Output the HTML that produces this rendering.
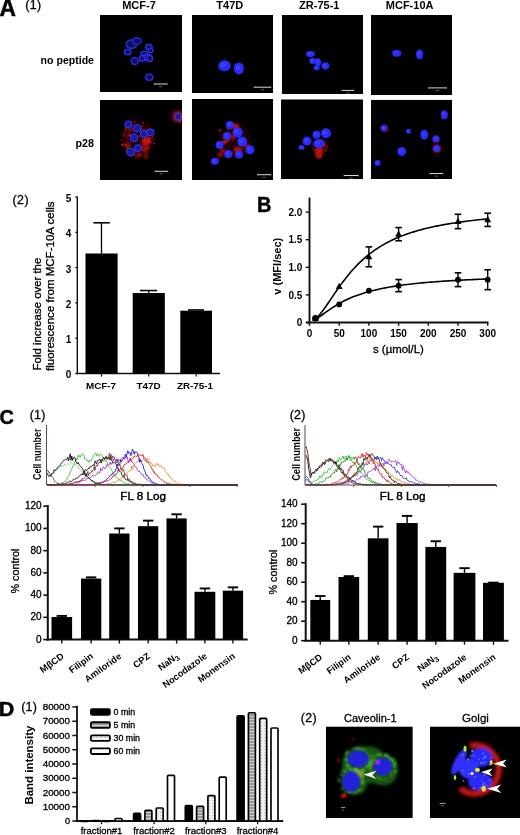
<!DOCTYPE html>
<html><head><meta charset="utf-8"><title>Figure</title>
<style>html,body{margin:0;padding:0;background:#fff;width:520px;height:835px;overflow:hidden}svg{display:block}</style>
</head><body>
<svg width="520" height="835" viewBox="0 0 520 835" font-family='"Liberation Sans", Arial, sans-serif' fill="#000"><defs><filter id="b05" x="-50%" y="-50%" width="200%" height="200%"><feGaussianBlur stdDeviation="0.5"/></filter><filter id="b1" x="-50%" y="-50%" width="200%" height="200%"><feGaussianBlur stdDeviation="0.8"/></filter><filter id="b2" x="-50%" y="-50%" width="200%" height="200%"><feGaussianBlur stdDeviation="1.6"/></filter><filter id="b3" x="-50%" y="-50%" width="200%" height="200%"><feGaussianBlur stdDeviation="3"/></filter><pattern id="pg" width="4" height="3" patternUnits="userSpaceOnUse"><rect width="4" height="3" fill="#9a9a9a"/><rect y="2" width="4" height="1" fill="#cfcfcf"/></pattern><pattern id="pl" width="4" height="3" patternUnits="userSpaceOnUse"><rect width="4" height="3" fill="#f0f0f0"/><rect y="2" width="2" height="1" fill="#c8c8c8"/></pattern></defs><text x="-0.60" y="15.50" font-size="23.2" font-weight="bold" textLength="16.40" lengthAdjust="spacingAndGlyphs" stroke="#000" stroke-width="0.5">A</text>
<text x="25.20" y="9.20" font-size="12.4" letter-spacing="0.35" stroke="#000" stroke-width="0.3">(1)</text>
<text x="122.20" y="9.20" font-size="11" font-weight="bold">MCF-7</text>
<text x="216.30" y="9.20" font-size="11" font-weight="bold">T47D</text>
<text x="299.10" y="9.20" font-size="11" font-weight="bold">ZR-75-1</text>
<text x="385.80" y="9.20" font-size="11" font-weight="bold">MCF-10A</text>
<text x="94.00" y="63.70" font-size="10.7" font-weight="bold" text-anchor="end" textLength="53.40" lengthAdjust="spacingAndGlyphs">no peptide</text>
<text x="94.00" y="147.00" font-size="10.7" font-weight="bold" text-anchor="end">p28</text>
<svg x="100" y="15" width="82" height="77" overflow="hidden"><rect width="82" height="77" fill="#000"/>
<g filter="url(#b05)">
</g>
<g filter="url(#b05)">
<ellipse cx="31.5" cy="29.2" rx="5.30" ry="4.30" fill="#10106a" stroke="#2e2ee8" stroke-width="1.3"/>
<ellipse cx="37" cy="26" rx="4.30" ry="3.30" fill="#10106a" stroke="#2e2ee8" stroke-width="1.3"/>
<ellipse cx="27.6" cy="37" rx="3.30" ry="2.80" fill="#10106a" stroke="#2e2ee8" stroke-width="1.3"/>
<ellipse cx="48.9" cy="32.3" rx="3.30" ry="2.80" fill="#10106a" stroke="#2e2ee8" stroke-width="1.3"/>
<ellipse cx="50.5" cy="35.5" rx="2.30" ry="2.30" fill="#10106a" stroke="#2e2ee8" stroke-width="1.3"/>
<ellipse cx="44.2" cy="38.6" rx="3.30" ry="2.30" fill="#10106a" stroke="#2e2ee8" stroke-width="1.3"/>
<ellipse cx="42.6" cy="43.4" rx="3.30" ry="2.80" fill="#10106a" stroke="#2e2ee8" stroke-width="1.3"/>
<ellipse cx="47.3" cy="42.3" rx="3.30" ry="2.80" fill="#10106a" stroke="#2e2ee8" stroke-width="1.3"/>
<ellipse cx="49.7" cy="43.4" rx="2.80" ry="3.30" fill="#10106a" stroke="#2e2ee8" stroke-width="1.3"/>
<ellipse cx="34.7" cy="46" rx="3.50" ry="3.50" fill="#10106a" stroke="#2e2ee8" stroke-width="1.3"/>
<ellipse cx="49.2" cy="62.3" rx="3.50" ry="3.10" fill="#10106a" stroke="#2e2ee8" stroke-width="1.3"/>
</g>
<line x1="54.4" y1="69" x2="67" y2="69" stroke="#d8d8d8" stroke-width="1"/>
<line x1="54.4" y1="68" x2="54.4" y2="70" stroke="#bbb" stroke-width="0.6"/><line x1="67" y1="68" x2="67" y2="70" stroke="#bbb" stroke-width="0.6"/>
<line x1="59.2" y1="71.6" x2="62.2" y2="71.6" stroke="#777" stroke-width="0.8"/>
</svg>
<svg x="192" y="15" width="81" height="78" overflow="hidden"><rect width="81" height="78" fill="#000"/>
<g filter="url(#b05)">
</g>
<g filter="url(#b05)">
<ellipse cx="32.6" cy="50.8" rx="6.3" ry="5.5" fill="#2c2cff"/>
<ellipse cx="31.34" cy="49.97" rx="2.83" ry="2.20" fill="#4a4aff" opacity="0.6"/>
<ellipse cx="46.8" cy="53.6" rx="5" ry="6" fill="#2c2cff"/>
<ellipse cx="45.80" cy="52.70" rx="2.25" ry="2.40" fill="#4a4aff" opacity="0.6"/>
</g>
<line x1="62.3" y1="72.2" x2="78.9" y2="72.2" stroke="#d8d8d8" stroke-width="1"/>
<line x1="62.3" y1="71.2" x2="62.3" y2="73.2" stroke="#bbb" stroke-width="0.6"/><line x1="78.9" y1="71.2" x2="78.9" y2="73.2" stroke="#bbb" stroke-width="0.6"/>
<line x1="69.1" y1="74.8" x2="72.1" y2="74.8" stroke="#777" stroke-width="0.8"/>
</svg>
<svg x="282" y="15" width="81" height="79" overflow="hidden"><rect width="81" height="79" fill="#000"/>
<g filter="url(#b05)">
</g>
<g filter="url(#b05)">
<ellipse cx="28.4" cy="39.1" rx="4.5" ry="3" fill="#2c2cff"/>
<ellipse cx="27.50" cy="38.65" rx="2.02" ry="1.20" fill="#4a4aff" opacity="0.6"/>
<ellipse cx="30.8" cy="46" rx="3.5" ry="3" fill="#2c2cff"/>
<ellipse cx="30.10" cy="45.55" rx="1.57" ry="1.20" fill="#4a4aff" opacity="0.6"/>
<ellipse cx="36" cy="47.3" rx="3" ry="4" fill="#2c2cff"/>
<ellipse cx="35.40" cy="46.70" rx="1.35" ry="1.60" fill="#4a4aff" opacity="0.6"/>
<ellipse cx="34.7" cy="52.8" rx="3" ry="2.5" fill="#2c2cff"/>
<ellipse cx="34.10" cy="52.42" rx="1.35" ry="1.00" fill="#4a4aff" opacity="0.6"/>
<ellipse cx="43.4" cy="50.8" rx="4" ry="3.6" fill="#2c2cff"/>
<ellipse cx="42.60" cy="50.26" rx="1.80" ry="1.44" fill="#4a4aff" opacity="0.6"/>
</g>
<line x1="60" y1="75.4" x2="71.8" y2="75.4" stroke="#d8d8d8" stroke-width="1"/>
<line x1="60" y1="74.4" x2="60" y2="76.4" stroke="#bbb" stroke-width="0.6"/><line x1="71.8" y1="74.4" x2="71.8" y2="76.4" stroke="#bbb" stroke-width="0.6"/>
<line x1="64.4" y1="78.0" x2="67.4" y2="78.0" stroke="#777" stroke-width="0.8"/>
</svg>
<svg x="371" y="15" width="81" height="80" overflow="hidden"><rect width="81" height="80" fill="#000"/>
<g filter="url(#b05)">
</g>
<g filter="url(#b05)">
<ellipse cx="25.7" cy="38.2" rx="4.5" ry="3.5" fill="#2c2cff"/>
<ellipse cx="24.80" cy="37.68" rx="2.02" ry="1.40" fill="#4a4aff" opacity="0.6"/>
<ellipse cx="48.6" cy="39.4" rx="3.5" ry="5" fill="#2c2cff"/>
<ellipse cx="47.90" cy="38.65" rx="1.57" ry="2.00" fill="#4a4aff" opacity="0.6"/>
</g>
<line x1="57.6" y1="72.9" x2="75.4" y2="72.9" stroke="#d8d8d8" stroke-width="1"/>
<line x1="57.6" y1="71.9" x2="57.6" y2="73.9" stroke="#bbb" stroke-width="0.6"/><line x1="75.4" y1="71.9" x2="75.4" y2="73.9" stroke="#bbb" stroke-width="0.6"/>
<line x1="65.0" y1="75.5" x2="68.0" y2="75.5" stroke="#777" stroke-width="0.8"/>
</svg>
<svg x="100" y="100" width="82" height="80" overflow="hidden"><rect width="82" height="80" fill="#000"/>
<ellipse cx="38" cy="38" rx="17" ry="19" fill="#d81616" opacity="0.11" filter="url(#b2)"/>
<ellipse cx="46.5" cy="41" rx="5" ry="4" fill="#d81616" opacity="0.90" filter="url(#b1)"/>
<ellipse cx="45" cy="48" rx="4" ry="5" fill="#d81616" opacity="0.63" filter="url(#b1)"/>
<ellipse cx="30" cy="30" rx="3" ry="3" fill="#d81616" opacity="0.45" filter="url(#b1)"/>
<ellipse cx="78" cy="16.6" rx="6" ry="6" fill="#d81616" opacity="0.72" filter="url(#b2)"/>
<ellipse cx="28" cy="45" rx="3" ry="4" fill="#d81616" opacity="0.45" filter="url(#b1)"/>
<ellipse cx="38" cy="55" rx="4" ry="3" fill="#d81616" opacity="0.45" filter="url(#b1)"/>
<ellipse cx="25" cy="35" rx="3" ry="3" fill="#d81616" opacity="0.36" filter="url(#b1)"/>
<ellipse cx="46" cy="56" rx="3" ry="3" fill="#d81616" opacity="0.45" filter="url(#b1)"/>
<g filter="url(#b05)">
<circle cx="43.2" cy="22.8" r="0.96" fill="#d41818" opacity="0.64"/>
<circle cx="47.9" cy="41.7" r="0.89" fill="#d41818" opacity="0.52"/>
<circle cx="54.2" cy="43.4" r="1.06" fill="#d41818" opacity="0.62"/>
<circle cx="22.6" cy="45.1" r="1.23" fill="#d41818" opacity="0.92"/>
<circle cx="28.7" cy="45.9" r="1.07" fill="#d41818" opacity="0.53"/>
<circle cx="29.7" cy="34.8" r="1.22" fill="#d41818" opacity="0.53"/>
<circle cx="31.2" cy="22.8" r="0.76" fill="#d41818" opacity="0.95"/>
<circle cx="39.6" cy="36.2" r="1.10" fill="#d41818" opacity="0.50"/>
<circle cx="26.8" cy="37.7" r="0.74" fill="#d41818" opacity="0.66"/>
<circle cx="41.3" cy="28.5" r="0.70" fill="#d41818" opacity="0.85"/>
<circle cx="23.6" cy="43.1" r="0.76" fill="#d41818" opacity="0.66"/>
<circle cx="41.7" cy="25.8" r="0.95" fill="#d41818" opacity="0.62"/>
<circle cx="54.4" cy="39.6" r="0.66" fill="#d41818" opacity="0.92"/>
<circle cx="26.8" cy="51.0" r="0.88" fill="#d41818" opacity="0.97"/>
<circle cx="30.2" cy="35.0" r="1.12" fill="#d41818" opacity="0.84"/>
<circle cx="33.3" cy="26.8" r="0.76" fill="#d41818" opacity="0.82"/>
<circle cx="49.1" cy="47.3" r="1.04" fill="#d41818" opacity="0.69"/>
<circle cx="40.2" cy="30.4" r="0.87" fill="#d41818" opacity="0.90"/>
<circle cx="27.5" cy="48.4" r="1.03" fill="#d41818" opacity="0.97"/>
<circle cx="52.4" cy="37.2" r="1.17" fill="#d41818" opacity="0.58"/>
<circle cx="34.4" cy="21.9" r="0.88" fill="#d41818" opacity="0.78"/>
<circle cx="21.5" cy="40.3" r="0.82" fill="#d41818" opacity="0.70"/>
<circle cx="49.0" cy="38.1" r="1.04" fill="#d41818" opacity="0.97"/>
<circle cx="46.6" cy="33.2" r="1.29" fill="#d41818" opacity="0.59"/>
<circle cx="41.0" cy="31.6" r="0.88" fill="#d41818" opacity="0.54"/>
<circle cx="47.7" cy="25.2" r="0.70" fill="#d41818" opacity="0.76"/>
<circle cx="37.4" cy="50.6" r="0.99" fill="#d41818" opacity="0.55"/>
<circle cx="43.9" cy="30.8" r="0.91" fill="#d41818" opacity="0.53"/>
<circle cx="45.5" cy="38.1" r="0.84" fill="#d41818" opacity="0.96"/>
<circle cx="47.1" cy="30.0" r="0.92" fill="#d41818" opacity="0.83"/>
<circle cx="44.2" cy="29.9" r="1.16" fill="#d41818" opacity="0.70"/>
<circle cx="25.9" cy="29.4" r="0.95" fill="#d41818" opacity="0.85"/>
<circle cx="37.6" cy="36.7" r="0.63" fill="#d41818" opacity="0.57"/>
<circle cx="39.7" cy="45.9" r="0.63" fill="#d41818" opacity="0.61"/>
<circle cx="25.1" cy="28.0" r="0.84" fill="#d41818" opacity="0.68"/>
<circle cx="25.9" cy="45.4" r="1.15" fill="#d41818" opacity="0.97"/>
<circle cx="27.8" cy="48.7" r="0.84" fill="#d41818" opacity="0.91"/>
<circle cx="39.9" cy="54.7" r="0.95" fill="#d41818" opacity="0.86"/>
<circle cx="28.7" cy="35.8" r="0.95" fill="#d41818" opacity="0.53"/>
<circle cx="49.9" cy="41.5" r="0.93" fill="#d41818" opacity="0.92"/>
<circle cx="81.7" cy="17.1" r="0.94" fill="#d41818" opacity="0.80"/>
<circle cx="77.5" cy="13.0" r="0.99" fill="#d41818" opacity="0.75"/>
<circle cx="76.1" cy="15.0" r="0.99" fill="#d41818" opacity="0.84"/>
<circle cx="79.8" cy="21.2" r="1.12" fill="#d41818" opacity="0.98"/>
<circle cx="77.1" cy="19.8" r="0.78" fill="#d41818" opacity="0.52"/>
<circle cx="80.5" cy="16.9" r="1.20" fill="#d41818" opacity="0.58"/>
</g>
<g filter="url(#b05)">
<ellipse cx="28.4" cy="24.4" rx="3.30" ry="3.30" fill="#1a1a90" stroke="#2e2ee8" stroke-width="1.3"/>
<ellipse cx="37" cy="28.4" rx="3.80" ry="3.80" fill="#1a1a90" stroke="#2e2ee8" stroke-width="1.3"/>
<ellipse cx="44" cy="34" rx="3.30" ry="3.30" fill="#1a1a90" stroke="#2e2ee8" stroke-width="1.3"/>
<ellipse cx="50.5" cy="32.3" rx="3.30" ry="3.30" fill="#1a1a90" stroke="#2e2ee8" stroke-width="1.3"/>
<ellipse cx="34" cy="37.9" rx="3.80" ry="3.80" fill="#1a1a90" stroke="#2e2ee8" stroke-width="1.3"/>
<ellipse cx="30.8" cy="52" rx="3.80" ry="3.80" fill="#1a1a90" stroke="#2e2ee8" stroke-width="1.3"/>
<ellipse cx="37.9" cy="48.1" rx="3.30" ry="3.30" fill="#1a1a90" stroke="#2e2ee8" stroke-width="1.3"/>
<ellipse cx="78" cy="16.6" rx="2.80" ry="3.30" fill="#1a1a90" stroke="#2e2ee8" stroke-width="1.3"/>
</g>
<line x1="55.2" y1="71.3" x2="67.8" y2="71.3" stroke="#d8d8d8" stroke-width="1"/>
<line x1="55.2" y1="70.3" x2="55.2" y2="72.3" stroke="#bbb" stroke-width="0.6"/><line x1="67.8" y1="70.3" x2="67.8" y2="72.3" stroke="#bbb" stroke-width="0.6"/>
<line x1="60.0" y1="73.89999999999999" x2="63.0" y2="73.89999999999999" stroke="#777" stroke-width="0.8"/>
</svg>
<svg x="192" y="99" width="81" height="81" overflow="hidden"><rect width="81" height="81" fill="#000"/>
<ellipse cx="43.4" cy="27.6" rx="4" ry="3" fill="#d81616" opacity="0.81" filter="url(#b1)"/>
<ellipse cx="41" cy="38" rx="3" ry="3" fill="#d81616" opacity="0.63" filter="url(#b1)"/>
<ellipse cx="45.7" cy="50.5" rx="4" ry="3" fill="#d81616" opacity="0.81" filter="url(#b1)"/>
<ellipse cx="31" cy="52" rx="3" ry="3" fill="#d81616" opacity="0.54" filter="url(#b1)"/>
<ellipse cx="28" cy="56" rx="3" ry="3" fill="#d81616" opacity="0.54" filter="url(#b1)"/>
<ellipse cx="55" cy="47" rx="3" ry="3" fill="#d81616" opacity="0.54" filter="url(#b1)"/>
<ellipse cx="33" cy="43" rx="3" ry="3" fill="#d81616" opacity="0.54" filter="url(#b1)"/>
<ellipse cx="42" cy="42" rx="16" ry="18" fill="#d81616" opacity="0.11" filter="url(#b2)"/>
<g filter="url(#b05)">
<circle cx="38.7" cy="33.7" r="0.65" fill="#d41818" opacity="0.60"/>
<circle cx="36.4" cy="30.5" r="0.98" fill="#d41818" opacity="0.73"/>
<circle cx="40.1" cy="54.4" r="1.25" fill="#d41818" opacity="0.60"/>
<circle cx="41.0" cy="33.0" r="0.74" fill="#d41818" opacity="0.66"/>
<circle cx="56.5" cy="51.6" r="0.86" fill="#d41818" opacity="0.59"/>
<circle cx="46.4" cy="42.0" r="0.75" fill="#d41818" opacity="0.71"/>
<circle cx="27.7" cy="31.4" r="1.22" fill="#d41818" opacity="0.62"/>
<circle cx="28.8" cy="30.9" r="0.67" fill="#d41818" opacity="0.93"/>
<circle cx="29.4" cy="51.7" r="0.83" fill="#d41818" opacity="0.81"/>
<circle cx="36.2" cy="41.7" r="1.13" fill="#d41818" opacity="0.91"/>
<circle cx="30.9" cy="43.2" r="1.26" fill="#d41818" opacity="0.69"/>
<circle cx="50.5" cy="34.0" r="0.86" fill="#d41818" opacity="0.68"/>
<circle cx="50.8" cy="45.5" r="0.76" fill="#d41818" opacity="0.53"/>
<circle cx="30.4" cy="38.9" r="0.62" fill="#d41818" opacity="0.58"/>
<circle cx="47.7" cy="38.8" r="0.86" fill="#d41818" opacity="0.98"/>
<circle cx="50.7" cy="49.5" r="1.16" fill="#d41818" opacity="0.51"/>
<circle cx="57.8" cy="49.2" r="1.08" fill="#d41818" opacity="0.63"/>
<circle cx="33.1" cy="43.1" r="1.22" fill="#d41818" opacity="0.97"/>
</g>
<g filter="url(#b05)">
<ellipse cx="37.9" cy="26" rx="4" ry="4" fill="#2c2cff"/>
<ellipse cx="37.10" cy="25.40" rx="1.80" ry="1.60" fill="#4a4aff" opacity="0.6"/>
<ellipse cx="45.7" cy="33.4" rx="5" ry="5" fill="#2c2cff"/>
<ellipse cx="44.70" cy="32.65" rx="2.25" ry="2.00" fill="#4a4aff" opacity="0.6"/>
<ellipse cx="35" cy="37" rx="4" ry="4" fill="#2c2cff"/>
<ellipse cx="34.20" cy="36.40" rx="1.80" ry="1.60" fill="#4a4aff" opacity="0.6"/>
<ellipse cx="50.2" cy="42.6" rx="5" ry="5" fill="#2c2cff"/>
<ellipse cx="49.20" cy="41.85" rx="2.25" ry="2.00" fill="#4a4aff" opacity="0.6"/>
<ellipse cx="27.6" cy="46" rx="4" ry="4" fill="#2c2cff"/>
<ellipse cx="26.80" cy="45.40" rx="1.80" ry="1.60" fill="#4a4aff" opacity="0.6"/>
<ellipse cx="58" cy="50.8" rx="4.5" ry="4.5" fill="#2c2cff"/>
<ellipse cx="57.10" cy="50.12" rx="2.02" ry="1.80" fill="#4a4aff" opacity="0.6"/>
<ellipse cx="36.3" cy="54.9" rx="4" ry="4" fill="#2c2cff"/>
<ellipse cx="35.50" cy="54.30" rx="1.80" ry="1.60" fill="#4a4aff" opacity="0.6"/>
<ellipse cx="47" cy="55.5" rx="4" ry="4" fill="#2c2cff"/>
<ellipse cx="46.20" cy="54.90" rx="1.80" ry="1.60" fill="#4a4aff" opacity="0.6"/>
<ellipse cx="22.9" cy="62.3" rx="4" ry="3.5" fill="#2c2cff"/>
<ellipse cx="22.10" cy="61.77" rx="1.80" ry="1.40" fill="#4a4aff" opacity="0.6"/>
</g>
<line x1="65.5" y1="75.7" x2="78.9" y2="75.7" stroke="#d8d8d8" stroke-width="1"/>
<line x1="65.5" y1="74.7" x2="65.5" y2="76.7" stroke="#bbb" stroke-width="0.6"/><line x1="78.9" y1="74.7" x2="78.9" y2="76.7" stroke="#bbb" stroke-width="0.6"/>
<line x1="70.7" y1="78.3" x2="73.7" y2="78.3" stroke="#777" stroke-width="0.8"/>
</svg>
<svg x="281" y="99.3" width="82" height="79.9" overflow="hidden"><rect width="82" height="79.9" fill="#000"/>
<ellipse cx="37.9" cy="53.6" rx="4" ry="6" fill="#d81616" opacity="0.81" filter="url(#b1)"/>
<ellipse cx="40" cy="46" rx="6" ry="6" fill="#d81616" opacity="0.45" filter="url(#b2)"/>
<g filter="url(#b05)">
<circle cx="43.2" cy="50.8" r="0.73" fill="#d41818" opacity="0.70"/>
<circle cx="37.6" cy="40.4" r="0.73" fill="#d41818" opacity="0.67"/>
<circle cx="33.6" cy="50.5" r="1.08" fill="#d41818" opacity="0.89"/>
<circle cx="35.3" cy="53.1" r="0.65" fill="#d41818" opacity="0.68"/>
<circle cx="43.4" cy="45.9" r="0.99" fill="#d41818" opacity="0.80"/>
<circle cx="31.5" cy="44.7" r="0.78" fill="#d41818" opacity="0.66"/>
<circle cx="42.3" cy="43.8" r="1.27" fill="#d41818" opacity="0.57"/>
<circle cx="39.1" cy="41.9" r="0.93" fill="#d41818" opacity="0.94"/>
<circle cx="41.9" cy="52.7" r="0.77" fill="#d41818" opacity="0.67"/>
<circle cx="40.1" cy="42.8" r="1.15" fill="#d41818" opacity="0.51"/>
<circle cx="45.8" cy="48.0" r="1.07" fill="#d41818" opacity="0.60"/>
<circle cx="36.1" cy="44.7" r="0.86" fill="#d41818" opacity="0.52"/>
<circle cx="40.9" cy="49.5" r="0.73" fill="#d41818" opacity="0.92"/>
<circle cx="38.3" cy="56.2" r="0.60" fill="#d41818" opacity="0.53"/>
<circle cx="45.2" cy="51.2" r="1.17" fill="#d41818" opacity="0.51"/>
<circle cx="41.5" cy="46.2" r="0.79" fill="#d41818" opacity="0.79"/>
<circle cx="40.2" cy="56.5" r="0.86" fill="#d41818" opacity="0.79"/>
<circle cx="34.2" cy="45.9" r="1.11" fill="#d41818" opacity="1.00"/>
<circle cx="36.1" cy="46.5" r="1.17" fill="#d41818" opacity="0.83"/>
<circle cx="31.5" cy="48.5" r="0.78" fill="#d41818" opacity="0.65"/>
</g>
<g filter="url(#b05)">
<ellipse cx="45" cy="33.9" rx="5" ry="5" fill="#2c2cff"/>
<ellipse cx="44.00" cy="33.15" rx="2.25" ry="2.00" fill="#4a4aff" opacity="0.6"/>
<ellipse cx="35.5" cy="35.5" rx="4" ry="4" fill="#2c2cff"/>
<ellipse cx="34.70" cy="34.90" rx="1.80" ry="1.60" fill="#4a4aff" opacity="0.6"/>
<ellipse cx="26" cy="41.8" rx="4.5" ry="4.5" fill="#2c2cff"/>
<ellipse cx="25.10" cy="41.12" rx="2.02" ry="1.80" fill="#4a4aff" opacity="0.6"/>
<ellipse cx="37.9" cy="44.2" rx="5.5" ry="4.5" fill="#2c2cff"/>
<ellipse cx="36.80" cy="43.53" rx="2.48" ry="1.80" fill="#4a4aff" opacity="0.6"/>
<ellipse cx="20.5" cy="48.1" rx="3" ry="2.5" fill="#2c2cff"/>
<ellipse cx="19.90" cy="47.73" rx="1.35" ry="1.00" fill="#4a4aff" opacity="0.6"/>
</g>
<line x1="63" y1="76.2" x2="77.3" y2="76.2" stroke="#d8d8d8" stroke-width="1"/>
<line x1="63" y1="75.2" x2="63" y2="77.2" stroke="#bbb" stroke-width="0.6"/><line x1="77.3" y1="75.2" x2="77.3" y2="77.2" stroke="#bbb" stroke-width="0.6"/>
<line x1="68.7" y1="78.8" x2="71.7" y2="78.8" stroke="#777" stroke-width="0.8"/>
</svg>
<svg x="371" y="99.7" width="81" height="79.4" overflow="hidden"><rect width="81" height="79.4" fill="#000"/>
<ellipse cx="14" cy="29" rx="4" ry="4" fill="#d81616" opacity="0.45" filter="url(#b1)"/>
<ellipse cx="66" cy="49" rx="4.5" ry="4.5" fill="#d81616" opacity="0.63" filter="url(#b1)"/>
<ellipse cx="65" cy="39.4" rx="4" ry="4" fill="#d81616" opacity="0.36" filter="url(#b1)"/>
<g filter="url(#b05)">
</g>
<g filter="url(#b05)">
<ellipse cx="12.9" cy="28.4" rx="3.5" ry="3" fill="#2c2cff"/>
<ellipse cx="12.20" cy="27.95" rx="1.57" ry="1.20" fill="#4a4aff" opacity="0.6"/>
<ellipse cx="37.5" cy="31.5" rx="2.5" ry="2.5" fill="#2c2cff"/>
<ellipse cx="37.00" cy="31.12" rx="1.12" ry="1.00" fill="#4a4aff" opacity="0.6"/>
<ellipse cx="53.3" cy="35" rx="4" ry="5" fill="#2c2cff"/>
<ellipse cx="52.50" cy="34.25" rx="1.80" ry="2.00" fill="#4a4aff" opacity="0.6"/>
<ellipse cx="65" cy="39.4" rx="3.5" ry="3.5" fill="#2c2cff"/>
<ellipse cx="64.30" cy="38.88" rx="1.57" ry="1.40" fill="#4a4aff" opacity="0.6"/>
<ellipse cx="65.6" cy="48.9" rx="3.5" ry="3.5" fill="#2c2cff"/>
<ellipse cx="64.90" cy="48.38" rx="1.57" ry="1.40" fill="#4a4aff" opacity="0.6"/>
<ellipse cx="30.8" cy="51.7" rx="4.5" ry="4.5" fill="#2c2cff"/>
<ellipse cx="29.90" cy="51.03" rx="2.02" ry="1.80" fill="#4a4aff" opacity="0.6"/>
<ellipse cx="73.3" cy="15" rx="3.5" ry="4.5" fill="#2c2cff"/>
<ellipse cx="72.60" cy="14.32" rx="1.57" ry="1.80" fill="#4a4aff" opacity="0.6"/>
<ellipse cx="6.6" cy="63.4" rx="3" ry="3" fill="#2c2cff"/>
<ellipse cx="6.00" cy="62.95" rx="1.35" ry="1.20" fill="#4a4aff" opacity="0.6"/>
</g>
<line x1="59" y1="73.8" x2="71.8" y2="73.8" stroke="#d8d8d8" stroke-width="1"/>
<line x1="59" y1="72.8" x2="59" y2="74.8" stroke="#bbb" stroke-width="0.6"/><line x1="71.8" y1="72.8" x2="71.8" y2="74.8" stroke="#bbb" stroke-width="0.6"/>
<line x1="63.9" y1="76.39999999999999" x2="66.9" y2="76.39999999999999" stroke="#777" stroke-width="0.8"/>
</svg>
<text x="12.40" y="203.90" font-size="12.4" letter-spacing="0.6" stroke="#000" stroke-width="0.3">(2)</text>
<line x1="77.30" y1="196.50" x2="77.30" y2="374.20" stroke="#111" stroke-width="1.4"/>
<line x1="76.60" y1="373.50" x2="220.00" y2="373.50" stroke="#111" stroke-width="1.4"/>
<line x1="75.20" y1="373.50" x2="77.30" y2="373.50" stroke="#111" stroke-width="1.2"/>
<text x="71.30" y="378.40" font-size="10" font-weight="bold" text-anchor="end">0</text>
<line x1="75.20" y1="338.20" x2="77.30" y2="338.20" stroke="#111" stroke-width="1.2"/>
<text x="71.30" y="343.10" font-size="10" font-weight="bold" text-anchor="end">1</text>
<line x1="75.20" y1="302.90" x2="77.30" y2="302.90" stroke="#111" stroke-width="1.2"/>
<text x="71.30" y="307.80" font-size="10" font-weight="bold" text-anchor="end">2</text>
<line x1="75.20" y1="267.60" x2="77.30" y2="267.60" stroke="#111" stroke-width="1.2"/>
<text x="71.30" y="272.50" font-size="10" font-weight="bold" text-anchor="end">3</text>
<line x1="75.20" y1="232.30" x2="77.30" y2="232.30" stroke="#111" stroke-width="1.2"/>
<text x="71.30" y="237.20" font-size="10" font-weight="bold" text-anchor="end">4</text>
<line x1="75.20" y1="197.00" x2="77.30" y2="197.00" stroke="#111" stroke-width="1.2"/>
<text x="71.30" y="201.90" font-size="10" font-weight="bold" text-anchor="end">5</text>
<rect x="85.50" y="253.48" width="32.10" height="120.02" fill="#000"/>
<line x1="101.50" y1="222.77" x2="101.50" y2="253.48" stroke="#000" stroke-width="1.3"/>
<line x1="93.40" y1="222.77" x2="109.80" y2="222.77" stroke="#000" stroke-width="1.6"/>
<line x1="101.50" y1="373.50" x2="101.50" y2="376.60" stroke="#111" stroke-width="1.2"/>
<rect x="132.70" y="293.02" width="32.10" height="80.48" fill="#000"/>
<line x1="148.70" y1="290.55" x2="148.70" y2="293.02" stroke="#000" stroke-width="1.3"/>
<line x1="140.00" y1="290.55" x2="157.20" y2="290.55" stroke="#000" stroke-width="1.6"/>
<line x1="148.70" y1="373.50" x2="148.70" y2="376.60" stroke="#111" stroke-width="1.2"/>
<rect x="180.30" y="310.67" width="31.70" height="62.83" fill="#000"/>
<line x1="196.20" y1="309.96" x2="196.20" y2="310.67" stroke="#000" stroke-width="1.3"/>
<line x1="188.00" y1="309.96" x2="204.00" y2="309.96" stroke="#000" stroke-width="1.6"/>
<line x1="196.20" y1="373.50" x2="196.20" y2="376.60" stroke="#111" stroke-width="1.2"/>
<text x="101.00" y="389.00" font-size="9.9" font-weight="bold" text-anchor="middle">MCF-7</text>
<text x="148.50" y="389.00" font-size="9.9" font-weight="bold" text-anchor="middle">T47D</text>
<text x="195.00" y="389.00" font-size="9.9" font-weight="bold" text-anchor="middle">ZR-75-1</text>
<text x="40.60" y="370.40" font-size="11.2" transform="rotate(-90 40.60 370.40)" textLength="112.70" lengthAdjust="spacingAndGlyphs" stroke="#000" stroke-width="0.3">Fold increase over the</text>
<text x="53.70" y="371.00" font-size="11.2" transform="rotate(-90 53.70 371.00)" textLength="169.60" lengthAdjust="spacingAndGlyphs" stroke="#000" stroke-width="0.3">fluorescence from MCF-10A cells</text>
<text x="256.90" y="212.30" font-size="21.6" font-weight="bold" textLength="14.40" lengthAdjust="spacingAndGlyphs" stroke="#000" stroke-width="0.4">B</text>
<line x1="309.50" y1="197.50" x2="309.50" y2="323.40" stroke="#111" stroke-width="1.9"/>
<line x1="306.00" y1="322.50" x2="488.50" y2="322.50" stroke="#111" stroke-width="1.9"/>
<line x1="305.80" y1="322.50" x2="309.50" y2="322.50" stroke="#111" stroke-width="1.4"/>
<text x="302.30" y="326.20" font-size="10" font-weight="bold" text-anchor="end">0</text>
<line x1="305.80" y1="294.90" x2="309.50" y2="294.90" stroke="#111" stroke-width="1.4"/>
<text x="302.30" y="298.60" font-size="10" font-weight="bold" text-anchor="end">0.5</text>
<line x1="305.80" y1="267.30" x2="309.50" y2="267.30" stroke="#111" stroke-width="1.4"/>
<text x="302.30" y="271.00" font-size="10" font-weight="bold" text-anchor="end">1.0</text>
<line x1="305.80" y1="239.70" x2="309.50" y2="239.70" stroke="#111" stroke-width="1.4"/>
<text x="302.30" y="243.40" font-size="10" font-weight="bold" text-anchor="end">1.5</text>
<line x1="305.80" y1="212.10" x2="309.50" y2="212.10" stroke="#111" stroke-width="1.4"/>
<text x="302.30" y="215.80" font-size="10" font-weight="bold" text-anchor="end">2.0</text>
<line x1="309.50" y1="322.50" x2="309.50" y2="325.80" stroke="#111" stroke-width="1.4"/>
<text x="309.50" y="337.20" font-size="10" font-weight="bold" text-anchor="middle">0</text>
<line x1="339.20" y1="322.50" x2="339.20" y2="325.80" stroke="#111" stroke-width="1.4"/>
<text x="339.20" y="337.20" font-size="10" font-weight="bold" text-anchor="middle">50</text>
<line x1="368.90" y1="322.50" x2="368.90" y2="325.80" stroke="#111" stroke-width="1.4"/>
<text x="368.90" y="337.20" font-size="10" font-weight="bold" text-anchor="middle">100</text>
<line x1="398.60" y1="322.50" x2="398.60" y2="325.80" stroke="#111" stroke-width="1.4"/>
<text x="398.60" y="337.20" font-size="10" font-weight="bold" text-anchor="middle">150</text>
<line x1="428.30" y1="322.50" x2="428.30" y2="325.80" stroke="#111" stroke-width="1.4"/>
<text x="428.30" y="337.20" font-size="10" font-weight="bold" text-anchor="middle">200</text>
<line x1="458.00" y1="322.50" x2="458.00" y2="325.80" stroke="#111" stroke-width="1.4"/>
<text x="458.00" y="337.20" font-size="10" font-weight="bold" text-anchor="middle">250</text>
<line x1="487.70" y1="322.50" x2="487.70" y2="325.80" stroke="#111" stroke-width="1.4"/>
<text x="487.70" y="337.20" font-size="10" font-weight="bold" text-anchor="middle">300</text>
<text x="373.00" y="352.60" font-size="10.6" textLength="50.80" lengthAdjust="spacingAndGlyphs" stroke="#000" stroke-width="0.3">s (µmol/L)</text>
<text x="281.20" y="294.70" font-size="10.5" font-weight="bold" transform="rotate(-90 281.20 294.70)" textLength="57.00" lengthAdjust="spacingAndGlyphs">v (MFI/sec)</text>
<polyline points="315.44,319.25 317.62,317.09 319.80,314.57 321.98,311.80 324.16,308.83 326.34,305.73 328.52,302.55 330.70,299.33 332.88,296.10 335.06,292.89 337.25,289.74 339.43,286.65 341.61,283.64 343.79,280.72 345.97,277.90 348.15,275.19 350.33,272.58 352.51,270.07 354.69,267.68 356.87,265.38 359.05,263.19 361.23,261.10 363.41,259.11 365.59,257.21 367.77,255.40 369.95,253.67 372.13,252.03 374.31,250.46 376.49,248.97 378.67,247.55 380.86,246.19 383.04,244.90 385.22,243.67 387.40,242.49 389.58,241.37 391.76,240.30 393.94,239.28 396.12,238.30 398.30,237.37 400.48,236.48 402.66,235.62 404.84,234.81 407.02,234.02 409.20,233.28 411.38,232.56 413.56,231.87 415.74,231.21 417.92,230.58 420.10,229.97 422.28,229.38 424.47,228.82 426.65,228.28 428.83,227.76 431.01,227.26 433.19,226.78 435.37,226.32 437.55,225.88 439.73,225.45 441.91,225.03 444.09,224.63 446.27,224.25 448.45,223.88 450.63,223.52 452.81,223.17 454.99,222.83 457.17,222.51 459.35,222.20 461.53,221.89 463.71,221.60 465.89,221.31 468.08,221.04 470.26,220.77 472.44,220.51 474.62,220.26 476.80,220.02 478.98,219.79 481.16,219.56 483.34,219.34 485.52,219.12 487.70,218.91" fill="none" stroke="#000" stroke-width="1.6"/>
<polyline points="315.44,319.66 317.62,318.18 319.80,316.61 321.98,315.01 324.16,313.41 326.34,311.84 328.52,310.29 330.70,308.80 332.88,307.36 335.06,305.98 337.25,304.67 339.43,303.41 341.61,302.22 343.79,301.08 345.97,300.01 348.15,298.99 350.33,298.02 352.51,297.11 354.69,296.24 356.87,295.42 359.05,294.64 361.23,293.90 363.41,293.20 365.59,292.54 367.77,291.91 369.95,291.31 372.13,290.74 374.31,290.20 376.49,289.68 378.67,289.19 380.86,288.72 383.04,288.28 385.22,287.85 387.40,287.45 389.58,287.06 391.76,286.69 393.94,286.34 396.12,286.00 398.30,285.68 400.48,285.36 402.66,285.07 404.84,284.78 407.02,284.51 409.20,284.24 411.38,283.99 413.56,283.75 415.74,283.52 417.92,283.29 420.10,283.07 422.28,282.87 424.47,282.67 426.65,282.47 428.83,282.28 431.01,282.10 433.19,281.93 435.37,281.76 437.55,281.60 439.73,281.44 441.91,281.29 444.09,281.14 446.27,281.00 448.45,280.87 450.63,280.73 452.81,280.60 454.99,280.48 457.17,280.36 459.35,280.24 461.53,280.12 463.71,280.01 465.89,279.91 468.08,279.80 470.26,279.70 472.44,279.60 474.62,279.51 476.80,279.41 478.98,279.32 481.16,279.23 483.34,279.15 485.52,279.06 487.70,278.98" fill="none" stroke="#000" stroke-width="1.6"/>
<polygon points="315.44,314.50 318.84,320.80 312.04,320.80" fill="#000"/>
<polygon points="339.20,282.71 342.60,289.01 335.80,289.01" fill="#000"/>
<line x1="368.90" y1="246.88" x2="368.90" y2="266.75" stroke="#000" stroke-width="1.4"/>
<line x1="365.60" y1="246.88" x2="372.20" y2="246.88" stroke="#000" stroke-width="1.6"/>
<line x1="365.60" y1="266.75" x2="372.20" y2="266.75" stroke="#000" stroke-width="1.6"/>
<polygon points="368.90,253.01 372.30,259.31 365.50,259.31" fill="#000"/>
<line x1="398.60" y1="227.56" x2="398.60" y2="240.80" stroke="#000" stroke-width="1.4"/>
<line x1="395.30" y1="227.56" x2="401.90" y2="227.56" stroke="#000" stroke-width="1.6"/>
<line x1="395.30" y1="240.80" x2="401.90" y2="240.80" stroke="#000" stroke-width="1.6"/>
<polygon points="398.60,230.38 402.00,236.68 395.20,236.68" fill="#000"/>
<line x1="458.00" y1="214.31" x2="458.00" y2="228.66" stroke="#000" stroke-width="1.4"/>
<line x1="454.70" y1="214.31" x2="461.30" y2="214.31" stroke="#000" stroke-width="1.6"/>
<line x1="454.70" y1="228.66" x2="461.30" y2="228.66" stroke="#000" stroke-width="1.6"/>
<polygon points="458.00,217.68 461.40,223.98 454.60,223.98" fill="#000"/>
<line x1="487.70" y1="213.20" x2="487.70" y2="226.45" stroke="#000" stroke-width="1.4"/>
<line x1="484.40" y1="213.20" x2="491.00" y2="213.20" stroke="#000" stroke-width="1.6"/>
<line x1="484.40" y1="226.45" x2="491.00" y2="226.45" stroke="#000" stroke-width="1.6"/>
<polygon points="487.70,216.03 491.10,222.33 484.30,222.33" fill="#000"/>
<circle cx="315.44" cy="318.30" r="3.3" fill="#000"/>
<circle cx="339.20" cy="304.39" r="2.9" fill="#000"/>
<circle cx="368.90" cy="290.76" r="2.9" fill="#000"/>
<line x1="398.60" y1="279.55" x2="398.60" y2="291.70" stroke="#000" stroke-width="1.4"/>
<line x1="395.30" y1="279.55" x2="401.90" y2="279.55" stroke="#000" stroke-width="1.6"/>
<line x1="395.30" y1="291.70" x2="401.90" y2="291.70" stroke="#000" stroke-width="1.6"/>
<circle cx="398.60" cy="285.63" r="2.9" fill="#000"/>
<line x1="458.00" y1="272.82" x2="458.00" y2="286.62" stroke="#000" stroke-width="1.4"/>
<line x1="454.70" y1="272.82" x2="461.30" y2="272.82" stroke="#000" stroke-width="1.6"/>
<line x1="454.70" y1="286.62" x2="461.30" y2="286.62" stroke="#000" stroke-width="1.6"/>
<circle cx="458.00" cy="279.72" r="2.9" fill="#000"/>
<line x1="487.70" y1="269.78" x2="487.70" y2="289.66" stroke="#000" stroke-width="1.4"/>
<line x1="484.40" y1="269.78" x2="491.00" y2="269.78" stroke="#000" stroke-width="1.6"/>
<line x1="484.40" y1="289.66" x2="491.00" y2="289.66" stroke="#000" stroke-width="1.6"/>
<circle cx="487.70" cy="279.72" r="2.9" fill="#000"/>
<text x="-0.40" y="424.00" font-size="21" font-weight="bold" textLength="14.40" lengthAdjust="spacingAndGlyphs" stroke="#000" stroke-width="0.4">C</text>
<polyline points="47.0,471.2 47.8,471.2 48.6,473.1 49.4,476.6 50.2,476.0 51.0,475.5 51.8,474.0 52.6,473.8 53.4,472.5 54.2,473.8 55.0,470.4 55.8,471.0 56.6,469.7 57.4,469.7 58.2,469.2 59.0,467.8 59.8,466.8 60.6,467.1 61.4,466.5 62.2,465.1 63.0,466.1 63.8,466.3 64.6,464.0 65.4,464.7 66.2,465.7 67.0,464.3 67.8,463.7 68.6,464.3 69.4,464.6 70.2,463.0 71.0,462.1 71.8,463.5 72.6,464.3 73.4,463.5 74.2,463.6 75.0,465.1 75.8,464.9 76.6,465.1 77.4,467.0 78.2,468.3 79.0,468.1 79.8,469.0 80.6,469.2 81.4,472.1 82.2,472.4 83.0,473.4 83.8,475.0 84.6,474.4 85.4,475.0 86.2,476.7 87.0,476.0 87.8,477.2 88.6,478.0 89.4,478.8 90.2,479.2 91.0,480.9 91.8,480.5 92.6,481.0 93.4,482.5 94.2,482.0 95.0,482.6 95.8,482.5 96.6,483.3 97.4,483.4 98.2,483.5 99.0,484.1 99.8,483.8 100.6,484.2 101.4,484.2 102.2,484.5 103.0,484.2 103.8,484.4 104.6,484.7 105.4,484.6 106.2,484.5 107.0,484.5 107.8,485.0 108.6,484.7 109.4,484.8 110.2,484.9 111.0,485.0 111.8,484.7 112.6,485.0 113.4,484.9 114.2,484.7 115.0,485.0 115.8,485.0 116.6,485.0 117.4,484.9 118.2,484.7 119.0,484.6 119.8,485.0 120.6,485.0 121.4,484.9 122.2,484.7 123.0,484.9 123.8,485.0 124.6,484.9 125.4,485.0 126.2,485.0 127.0,485.0 127.8,484.9 128.6,484.9 129.4,485.0 130.2,485.0 131.0,485.0 131.8,485.0 132.6,484.8 133.4,485.0 134.2,485.0 135.0,484.8 135.8,484.9 136.6,484.6 137.4,485.0 138.2,485.0 139.0,485.0 139.8,484.8 140.6,484.6 141.4,485.0 142.2,485.0 143.0,484.9 143.8,485.0 144.6,485.0 145.4,485.0 146.2,485.0 147.0,484.8 147.8,485.0 148.6,484.8 149.4,485.0 150.2,484.9 151.0,485.0 151.8,485.0 152.6,484.9 153.4,485.0 154.2,484.9 155.0,484.9 155.8,484.8 156.6,484.9 157.4,484.8 158.2,485.0 159.0,485.0 159.8,485.0 160.6,485.0 161.4,485.0 162.2,485.0 163.0,485.0 163.8,485.0 164.6,485.0 165.4,485.0 166.2,485.0 167.0,485.0 167.8,484.8 168.6,484.9 169.4,485.0 170.2,485.0 171.0,484.7 171.8,484.9 172.6,484.7 173.4,484.6 174.2,485.0 175.0,484.9 175.8,484.9 176.6,484.9 177.4,484.9 178.2,485.0 179.0,485.0 179.8,485.0 180.6,485.0 181.4,485.0 182.2,485.0 183.0,485.0 183.8,484.9 184.6,484.9 185.4,484.9 186.2,484.9 187.0,485.0 187.8,485.0 188.6,485.0 189.4,485.0 190.2,484.9 191.0,485.0 191.8,484.9 192.6,485.0 193.4,484.8 194.2,485.0 195.0,485.0 195.8,485.0 196.6,485.0 197.4,485.0 198.2,485.0 199.0,485.0 199.8,485.0 200.6,484.8 201.4,485.0 202.2,485.0 203.0,485.0 203.8,485.0 204.6,484.7 205.4,485.0 206.2,484.9 207.0,484.9 207.8,485.0 208.6,484.9 209.4,484.8 210.2,484.9 211.0,485.0 211.8,484.8 212.6,485.0 213.4,484.9 214.2,485.0 215.0,484.9 215.8,485.0 216.6,484.9 217.4,485.0 218.2,485.0 219.0,484.9 219.8,484.7 220.6,484.8 221.4,485.0 222.2,484.9 223.0,485.0 223.8,485.0 224.6,485.0 225.4,485.0 226.2,485.0 227.0,485.0 227.8,485.0 228.6,485.0 229.4,485.0 230.2,485.0 231.0,484.9 231.8,484.7 232.6,485.0 233.4,484.8 234.2,485.0 235.0,485.0 235.8,485.0 236.6,484.9 237.4,485.0" fill="none" stroke="#8ad88a" stroke-width="0.8" stroke-linejoin="round"/>
<polyline points="47.0,469.9 47.8,470.2 48.6,471.8 49.4,473.2 50.2,473.7 51.0,475.1 51.8,476.6 52.6,477.4 53.4,478.5 54.2,480.6 55.0,481.2 55.8,482.1 56.6,482.9 57.4,483.4 58.2,484.1 59.0,484.2 59.8,484.2 60.6,484.6 61.4,484.9 62.2,484.8 63.0,484.8 63.8,484.9 64.6,485.0 65.4,484.8 66.2,485.0 67.0,484.9 67.8,485.0 68.6,485.0 69.4,484.9 70.2,485.0 71.0,485.0 71.8,484.9 72.6,485.0 73.4,485.0 74.2,485.0 75.0,485.0 75.8,484.9 76.6,485.0 77.4,485.0 78.2,484.9 79.0,485.0 79.8,484.9 80.6,485.0 81.4,485.0 82.2,484.9 83.0,485.0 83.8,485.0 84.6,484.8 85.4,485.0 86.2,485.0 87.0,485.0 87.8,485.0 88.6,485.0 89.4,485.0 90.2,485.0 91.0,485.0 91.8,484.8 92.6,485.0 93.4,485.0 94.2,485.0 95.0,485.0 95.8,485.0 96.6,485.0 97.4,485.0 98.2,484.6 99.0,485.0 99.8,485.0 100.6,485.0 101.4,485.0 102.2,485.0 103.0,485.0 103.8,484.9 104.6,485.0 105.4,484.8 106.2,485.0 107.0,485.0 107.8,484.6 108.6,485.0 109.4,485.0 110.2,485.0 111.0,485.0 111.8,484.9 112.6,485.0 113.4,485.0 114.2,485.0 115.0,484.7 115.8,484.8 116.6,485.0 117.4,485.0 118.2,485.0 119.0,484.9 119.8,485.0 120.6,484.8 121.4,484.9 122.2,484.9 123.0,485.0 123.8,485.0 124.6,485.0 125.4,484.8 126.2,484.9 127.0,485.0 127.8,484.8 128.6,485.0 129.4,485.0 130.2,485.0 131.0,485.0 131.8,485.0 132.6,485.0 133.4,484.9 134.2,484.9 135.0,485.0 135.8,484.9 136.6,484.9 137.4,485.0 138.2,485.0 139.0,485.0 139.8,484.9 140.6,484.8 141.4,484.8 142.2,484.8 143.0,485.0 143.8,485.0 144.6,484.9 145.4,485.0 146.2,484.9 147.0,485.0 147.8,485.0 148.6,485.0 149.4,484.9 150.2,485.0 151.0,485.0 151.8,484.9 152.6,485.0 153.4,485.0 154.2,485.0 155.0,484.9 155.8,484.9 156.6,485.0 157.4,485.0 158.2,484.8 159.0,485.0 159.8,484.9 160.6,485.0 161.4,485.0 162.2,485.0 163.0,485.0 163.8,485.0 164.6,484.9 165.4,485.0 166.2,485.0 167.0,485.0 167.8,484.8 168.6,485.0 169.4,484.9 170.2,485.0 171.0,484.9 171.8,485.0 172.6,485.0 173.4,484.8 174.2,485.0 175.0,484.9 175.8,485.0 176.6,485.0 177.4,484.9 178.2,485.0 179.0,485.0 179.8,485.0 180.6,485.0 181.4,484.9 182.2,485.0 183.0,485.0 183.8,484.8 184.6,484.9 185.4,484.8 186.2,484.9 187.0,485.0 187.8,485.0 188.6,485.0 189.4,484.9 190.2,485.0 191.0,485.0 191.8,485.0 192.6,485.0 193.4,485.0 194.2,485.0 195.0,485.0 195.8,485.0 196.6,485.0 197.4,485.0 198.2,484.9 199.0,484.7 199.8,485.0 200.6,484.8 201.4,485.0 202.2,485.0 203.0,485.0 203.8,485.0 204.6,484.8 205.4,484.9 206.2,485.0 207.0,485.0 207.8,485.0 208.6,485.0 209.4,484.9 210.2,485.0 211.0,485.0 211.8,485.0 212.6,484.9 213.4,484.8 214.2,485.0 215.0,485.0 215.8,484.9 216.6,485.0 217.4,485.0 218.2,484.9 219.0,484.8 219.8,485.0 220.6,485.0 221.4,484.9 222.2,485.0 223.0,485.0 223.8,485.0 224.6,484.7 225.4,484.9 226.2,485.0 227.0,485.0 227.8,485.0 228.6,484.9 229.4,484.8 230.2,485.0 231.0,484.9 231.8,484.9 232.6,485.0 233.4,484.9 234.2,484.8 235.0,485.0 235.8,485.0 236.6,484.9 237.4,485.0" fill="none" stroke="#5a2a2a" stroke-width="0.8" stroke-linejoin="round"/>
<polyline points="47.0,485.0 47.8,484.8 48.6,485.0 49.4,484.8 50.2,485.0 51.0,485.0 51.8,485.0 52.6,485.0 53.4,484.9 54.2,485.0 55.0,484.6 55.8,485.0 56.6,484.6 57.4,484.8 58.2,484.6 59.0,484.0 59.8,484.0 60.6,484.0 61.4,484.0 62.2,482.6 63.0,482.3 63.8,482.2 64.6,481.2 65.4,481.1 66.2,480.2 67.0,479.1 67.8,477.1 68.6,475.7 69.4,475.1 70.2,472.3 71.0,470.5 71.8,469.3 72.6,466.6 73.4,466.2 74.2,464.2 75.0,461.8 75.8,460.8 76.6,458.2 77.4,459.5 78.2,454.9 79.0,457.0 79.8,455.6 80.6,456.9 81.4,454.2 82.2,453.5 83.0,454.1 83.8,455.0 84.6,459.0 85.4,458.8 86.2,459.4 87.0,461.1 87.8,459.8 88.6,462.3 89.4,461.8 90.2,459.8 91.0,460.3 91.8,459.1 92.6,458.0 93.4,455.3 94.2,454.7 95.0,453.8 95.8,452.7 96.6,455.9 97.4,454.8 98.2,453.9 99.0,456.3 99.8,455.6 100.6,454.0 101.4,454.5 102.2,455.3 103.0,457.6 103.8,458.9 104.6,458.3 105.4,461.2 106.2,461.5 107.0,461.5 107.8,464.7 108.6,466.3 109.4,466.8 110.2,467.4 111.0,468.8 111.8,470.4 112.6,471.2 113.4,474.2 114.2,474.6 115.0,474.8 115.8,476.6 116.6,477.8 117.4,478.5 118.2,479.1 119.0,479.3 119.8,480.5 120.6,480.4 121.4,480.2 122.2,481.7 123.0,481.4 123.8,482.3 124.6,483.3 125.4,483.2 126.2,483.8 127.0,483.4 127.8,484.2 128.6,483.6 129.4,484.0 130.2,484.9 131.0,484.2 131.8,484.1 132.6,484.8 133.4,484.5 134.2,485.0 135.0,484.7 135.8,485.0 136.6,484.8 137.4,485.0 138.2,485.0 139.0,484.9 139.8,484.5 140.6,485.0 141.4,484.8 142.2,485.0 143.0,485.0 143.8,484.9 144.6,484.7 145.4,485.0 146.2,484.9 147.0,484.9 147.8,485.0 148.6,484.7 149.4,484.6 150.2,485.0 151.0,484.7 151.8,485.0 152.6,485.0 153.4,484.7 154.2,485.0 155.0,484.9 155.8,484.7 156.6,484.7 157.4,484.8 158.2,485.0 159.0,485.0 159.8,484.8 160.6,485.0 161.4,485.0 162.2,485.0 163.0,485.0 163.8,485.0 164.6,484.7 165.4,485.0 166.2,485.0 167.0,485.0 167.8,484.8 168.6,485.0 169.4,485.0 170.2,485.0 171.0,484.9 171.8,484.9 172.6,485.0 173.4,485.0 174.2,485.0 175.0,484.9 175.8,485.0 176.6,485.0 177.4,485.0 178.2,484.9 179.0,484.6 179.8,485.0 180.6,484.9 181.4,484.7 182.2,485.0 183.0,485.0 183.8,485.0 184.6,485.0 185.4,484.5 186.2,484.9 187.0,484.8 187.8,485.0 188.6,485.0 189.4,485.0 190.2,484.8 191.0,485.0 191.8,485.0 192.6,484.8 193.4,485.0 194.2,484.8 195.0,484.7 195.8,485.0 196.6,485.0 197.4,484.8 198.2,485.0 199.0,484.8 199.8,485.0 200.6,484.8 201.4,485.0 202.2,485.0 203.0,485.0 203.8,485.0 204.6,485.0 205.4,485.0 206.2,485.0 207.0,484.9 207.8,485.0 208.6,484.7 209.4,485.0 210.2,485.0 211.0,484.7 211.8,484.7 212.6,485.0 213.4,485.0 214.2,485.0 215.0,485.0 215.8,485.0 216.6,484.7 217.4,484.9 218.2,485.0 219.0,484.9 219.8,485.0 220.6,484.8 221.4,484.8 222.2,485.0 223.0,485.0 223.8,484.5 224.6,484.9 225.4,485.0 226.2,484.6 227.0,485.0 227.8,485.0 228.6,484.9 229.4,485.0 230.2,485.0 231.0,484.9 231.8,485.0 232.6,485.0 233.4,485.0 234.2,485.0 235.0,484.8 235.8,485.0 236.6,485.0 237.4,484.6" fill="none" stroke="#40c040" stroke-width="0.9" stroke-linejoin="round"/>
<polyline points="47.0,485.0 47.8,484.6 48.6,484.7 49.4,485.0 50.2,485.0 51.0,484.8 51.8,484.8 52.6,484.7 53.4,484.8 54.2,484.6 55.0,484.5 55.8,485.0 56.6,484.5 57.4,484.7 58.2,484.9 59.0,484.8 59.8,484.2 60.6,484.4 61.4,485.0 62.2,484.5 63.0,484.5 63.8,484.5 64.6,484.5 65.4,484.7 66.2,484.0 67.0,484.4 67.8,484.2 68.6,484.2 69.4,484.1 70.2,483.5 71.0,483.5 71.8,483.8 72.6,483.8 73.4,483.5 74.2,482.7 75.0,482.9 75.8,482.7 76.6,482.7 77.4,482.5 78.2,482.1 79.0,482.8 79.8,480.9 80.6,481.9 81.4,481.5 82.2,480.2 83.0,480.5 83.8,480.3 84.6,480.3 85.4,480.6 86.2,479.2 87.0,478.2 87.8,479.1 88.6,477.2 89.4,478.5 90.2,477.8 91.0,476.4 91.8,476.4 92.6,475.3 93.4,476.0 94.2,475.7 95.0,475.9 95.8,474.8 96.6,474.2 97.4,474.0 98.2,471.9 99.0,472.2 99.8,472.9 100.6,468.0 101.4,470.6 102.2,470.5 103.0,467.3 103.8,466.8 104.6,468.7 105.4,468.4 106.2,467.4 107.0,464.4 107.8,465.5 108.6,465.5 109.4,464.0 110.2,462.0 111.0,464.6 111.8,462.9 112.6,463.6 113.4,458.8 114.2,458.8 115.0,459.5 115.8,460.4 116.6,459.1 117.4,462.3 118.2,458.9 119.0,460.7 119.8,460.5 120.6,459.5 121.4,458.8 122.2,457.5 123.0,457.2 123.8,457.7 124.6,459.2 125.4,457.1 126.2,458.3 127.0,456.8 127.8,459.9 128.6,462.7 129.4,460.4 130.2,457.7 131.0,460.6 131.8,462.2 132.6,461.9 133.4,463.3 134.2,464.3 135.0,466.5 135.8,466.9 136.6,467.9 137.4,469.8 138.2,471.4 139.0,471.2 139.8,471.5 140.6,472.8 141.4,474.0 142.2,474.9 143.0,474.3 143.8,476.9 144.6,477.2 145.4,477.3 146.2,479.3 147.0,479.8 147.8,480.0 148.6,480.2 149.4,481.4 150.2,481.9 151.0,482.4 151.8,483.3 152.6,482.6 153.4,483.5 154.2,484.2 155.0,483.9 155.8,484.5 156.6,484.5 157.4,484.3 158.2,484.7 159.0,484.2 159.8,485.0 160.6,484.6 161.4,484.6 162.2,484.4 163.0,484.6 163.8,484.8 164.6,484.9 165.4,484.9 166.2,484.7 167.0,485.0 167.8,484.8 168.6,485.0 169.4,484.9 170.2,485.0 171.0,484.6 171.8,485.0 172.6,484.9 173.4,484.9 174.2,484.9 175.0,484.9 175.8,484.9 176.6,484.8 177.4,485.0 178.2,485.0 179.0,485.0 179.8,485.0 180.6,485.0 181.4,485.0 182.2,485.0 183.0,484.7 183.8,484.9 184.6,484.9 185.4,484.7 186.2,485.0 187.0,485.0 187.8,485.0 188.6,485.0 189.4,484.8 190.2,484.6 191.0,485.0 191.8,484.5 192.6,484.7 193.4,484.8 194.2,484.9 195.0,484.5 195.8,485.0 196.6,485.0 197.4,485.0 198.2,485.0 199.0,484.9 199.8,485.0 200.6,484.9 201.4,484.9 202.2,485.0 203.0,484.7 203.8,485.0 204.6,484.8 205.4,485.0 206.2,484.9 207.0,485.0 207.8,485.0 208.6,485.0 209.4,485.0 210.2,485.0 211.0,485.0 211.8,484.9 212.6,485.0 213.4,485.0 214.2,485.0 215.0,485.0 215.8,485.0 216.6,485.0 217.4,484.8 218.2,484.8 219.0,484.9 219.8,485.0 220.6,485.0 221.4,485.0 222.2,485.0 223.0,484.8 223.8,485.0 224.6,485.0 225.4,484.7 226.2,484.8 227.0,484.8 227.8,484.8 228.6,484.9 229.4,485.0 230.2,485.0 231.0,484.8 231.8,485.0 232.6,485.0 233.4,484.9 234.2,484.7 235.0,484.7 235.8,484.8 236.6,485.0 237.4,484.8" fill="none" stroke="#9a30d0" stroke-width="0.85" stroke-linejoin="round"/>
<polyline points="47.0,484.9 47.8,485.0 48.6,484.7 49.4,484.9 50.2,485.0 51.0,484.8 51.8,485.0 52.6,484.9 53.4,485.0 54.2,485.0 55.0,485.0 55.8,485.0 56.6,485.0 57.4,484.6 58.2,485.0 59.0,485.0 59.8,484.8 60.6,485.0 61.4,484.9 62.2,485.0 63.0,485.0 63.8,485.0 64.6,484.9 65.4,485.0 66.2,485.0 67.0,485.0 67.8,485.0 68.6,484.9 69.4,484.9 70.2,484.9 71.0,485.0 71.8,485.0 72.6,485.0 73.4,485.0 74.2,485.0 75.0,484.9 75.8,485.0 76.6,485.0 77.4,485.0 78.2,485.0 79.0,485.0 79.8,485.0 80.6,484.6 81.4,485.0 82.2,485.0 83.0,485.0 83.8,485.0 84.6,484.9 85.4,484.9 86.2,485.0 87.0,484.9 87.8,485.0 88.6,485.0 89.4,485.0 90.2,484.5 91.0,484.8 91.8,485.0 92.6,485.0 93.4,485.0 94.2,484.7 95.0,485.0 95.8,485.0 96.6,484.7 97.4,484.9 98.2,484.7 99.0,484.9 99.8,484.3 100.6,485.0 101.4,485.0 102.2,484.6 103.0,484.3 103.8,484.6 104.6,484.3 105.4,484.6 106.2,484.7 107.0,483.8 107.8,483.6 108.6,483.5 109.4,484.0 110.2,484.0 111.0,483.9 111.8,483.3 112.6,482.7 113.4,482.5 114.2,483.0 115.0,482.0 115.8,481.7 116.6,481.3 117.4,480.9 118.2,480.5 119.0,479.6 119.8,479.3 120.6,478.7 121.4,478.7 122.2,477.3 123.0,477.0 123.8,477.8 124.6,475.0 125.4,474.9 126.2,473.1 127.0,473.2 127.8,472.3 128.6,471.1 129.4,470.5 130.2,470.1 131.0,470.6 131.8,466.0 132.6,468.8 133.4,466.6 134.2,464.7 135.0,464.2 135.8,463.3 136.6,462.3 137.4,461.1 138.2,461.7 139.0,458.0 139.8,462.4 140.6,460.4 141.4,460.9 142.2,460.9 143.0,459.7 143.8,458.2 144.6,460.9 145.4,461.0 146.2,459.4 147.0,459.9 147.8,458.5 148.6,460.0 149.4,461.5 150.2,462.7 151.0,462.7 151.8,463.8 152.6,465.9 153.4,465.0 154.2,466.0 155.0,466.6 155.8,466.2 156.6,463.4 157.4,464.3 158.2,463.9 159.0,465.8 159.8,466.5 160.6,466.1 161.4,466.1 162.2,467.4 163.0,468.1 163.8,467.8 164.6,469.4 165.4,471.7 166.2,472.2 167.0,473.5 167.8,473.8 168.6,476.0 169.4,476.2 170.2,476.5 171.0,477.9 171.8,479.4 172.6,480.0 173.4,480.3 174.2,480.8 175.0,481.2 175.8,482.2 176.6,483.2 177.4,482.5 178.2,483.3 179.0,483.5 179.8,483.8 180.6,484.5 181.4,484.4 182.2,484.3 183.0,484.2 183.8,484.5 184.6,485.0 185.4,484.7 186.2,484.7 187.0,484.5 187.8,484.7 188.6,484.3 189.4,484.6 190.2,484.6 191.0,484.7 191.8,485.0 192.6,484.8 193.4,484.8 194.2,485.0 195.0,484.9 195.8,484.9 196.6,485.0 197.4,485.0 198.2,485.0 199.0,484.9 199.8,485.0 200.6,484.9 201.4,485.0 202.2,485.0 203.0,485.0 203.8,485.0 204.6,484.9 205.4,485.0 206.2,485.0 207.0,485.0 207.8,484.7 208.6,485.0 209.4,484.8 210.2,485.0 211.0,485.0 211.8,485.0 212.6,485.0 213.4,485.0 214.2,484.9 215.0,485.0 215.8,485.0 216.6,485.0 217.4,485.0 218.2,485.0 219.0,485.0 219.8,484.7 220.6,485.0 221.4,484.7 222.2,485.0 223.0,484.6 223.8,484.9 224.6,484.9 225.4,484.8 226.2,484.8 227.0,484.7 227.8,484.7 228.6,485.0 229.4,485.0 230.2,485.0 231.0,485.0 231.8,484.9 232.6,484.9 233.4,485.0 234.2,485.0 235.0,485.0 235.8,485.0 236.6,484.9 237.4,485.0" fill="none" stroke="#f08020" stroke-width="0.85" stroke-linejoin="round"/>
<polyline points="47.0,484.8 47.8,485.0 48.6,485.0 49.4,485.0 50.2,485.0 51.0,485.0 51.8,485.0 52.6,485.0 53.4,485.0 54.2,484.5 55.0,485.0 55.8,485.0 56.6,485.0 57.4,485.0 58.2,485.0 59.0,485.0 59.8,484.9 60.6,485.0 61.4,485.0 62.2,485.0 63.0,485.0 63.8,484.9 64.6,484.9 65.4,484.9 66.2,485.0 67.0,484.8 67.8,485.0 68.6,484.9 69.4,484.8 70.2,485.0 71.0,485.0 71.8,484.9 72.6,485.0 73.4,485.0 74.2,485.0 75.0,484.8 75.8,485.0 76.6,485.0 77.4,484.8 78.2,484.5 79.0,484.6 79.8,485.0 80.6,485.0 81.4,484.8 82.2,484.8 83.0,484.9 83.8,485.0 84.6,484.7 85.4,484.8 86.2,485.0 87.0,484.9 87.8,484.8 88.6,484.8 89.4,484.6 90.2,484.5 91.0,484.5 91.8,484.6 92.6,484.9 93.4,484.2 94.2,483.8 95.0,483.5 95.8,484.0 96.6,483.9 97.4,483.1 98.2,482.9 99.0,483.1 99.8,482.6 100.6,483.0 101.4,482.0 102.2,482.4 103.0,481.7 103.8,481.2 104.6,481.0 105.4,481.5 106.2,480.1 107.0,478.7 107.8,478.3 108.6,477.9 109.4,476.4 110.2,475.4 111.0,474.3 111.8,475.0 112.6,473.2 113.4,472.6 114.2,472.2 115.0,471.8 115.8,469.1 116.6,468.9 117.4,464.1 118.2,465.7 119.0,464.7 119.8,463.8 120.6,459.5 121.4,462.2 122.2,460.0 123.0,459.8 123.8,457.8 124.6,456.7 125.4,454.0 126.2,457.0 127.0,454.0 127.8,450.7 128.6,453.5 129.4,452.4 130.2,453.2 131.0,455.7 131.8,451.3 132.6,449.1 133.4,451.8 134.2,454.4 135.0,451.4 135.8,452.5 136.6,452.0 137.4,453.4 138.2,456.7 139.0,457.2 139.8,462.1 140.6,459.7 141.4,462.8 142.2,463.5 143.0,465.4 143.8,468.8 144.6,470.4 145.4,472.8 146.2,475.5 147.0,475.0 147.8,476.1 148.6,478.3 149.4,478.0 150.2,479.5 151.0,480.1 151.8,481.6 152.6,482.8 153.4,482.0 154.2,482.6 155.0,483.3 155.8,483.8 156.6,484.0 157.4,484.2 158.2,484.5 159.0,485.0 159.8,484.4 160.6,485.0 161.4,484.9 162.2,484.9 163.0,484.8 163.8,485.0 164.6,484.7 165.4,484.8 166.2,484.8 167.0,484.7 167.8,485.0 168.6,485.0 169.4,484.9 170.2,484.7 171.0,484.7 171.8,485.0 172.6,485.0 173.4,484.9 174.2,485.0 175.0,485.0 175.8,485.0 176.6,484.7 177.4,485.0 178.2,484.7 179.0,485.0 179.8,485.0 180.6,484.5 181.4,485.0 182.2,484.9 183.0,484.6 183.8,485.0 184.6,485.0 185.4,484.8 186.2,485.0 187.0,485.0 187.8,485.0 188.6,485.0 189.4,484.8 190.2,485.0 191.0,484.9 191.8,484.6 192.6,484.7 193.4,484.7 194.2,484.7 195.0,485.0 195.8,484.7 196.6,484.9 197.4,485.0 198.2,485.0 199.0,485.0 199.8,485.0 200.6,485.0 201.4,485.0 202.2,485.0 203.0,485.0 203.8,484.9 204.6,485.0 205.4,485.0 206.2,484.7 207.0,485.0 207.8,484.9 208.6,485.0 209.4,484.9 210.2,485.0 211.0,485.0 211.8,485.0 212.6,485.0 213.4,485.0 214.2,485.0 215.0,484.8 215.8,484.8 216.6,485.0 217.4,484.9 218.2,485.0 219.0,484.9 219.8,485.0 220.6,485.0 221.4,484.8 222.2,484.9 223.0,485.0 223.8,485.0 224.6,485.0 225.4,485.0 226.2,485.0 227.0,484.9 227.8,484.7 228.6,485.0 229.4,484.7 230.2,484.7 231.0,485.0 231.8,485.0 232.6,484.8 233.4,484.9 234.2,484.5 235.0,484.7 235.8,484.8 236.6,484.6 237.4,485.0" fill="none" stroke="#1818e0" stroke-width="0.9" stroke-linejoin="round"/>
<polyline points="47.0,485.0 47.8,485.0 48.6,484.7 49.4,484.9 50.2,485.0 51.0,484.7 51.8,485.0 52.6,484.8 53.4,485.0 54.2,485.0 55.0,484.9 55.8,485.0 56.6,485.0 57.4,484.7 58.2,484.9 59.0,485.0 59.8,484.9 60.6,485.0 61.4,484.6 62.2,485.0 63.0,484.9 63.8,484.9 64.6,485.0 65.4,485.0 66.2,485.0 67.0,484.9 67.8,484.7 68.6,484.9 69.4,485.0 70.2,484.9 71.0,484.8 71.8,484.8 72.6,484.9 73.4,485.0 74.2,484.8 75.0,485.0 75.8,484.9 76.6,485.0 77.4,484.8 78.2,485.0 79.0,484.8 79.8,484.6 80.6,484.7 81.4,485.0 82.2,485.0 83.0,485.0 83.8,484.8 84.6,484.8 85.4,484.9 86.2,484.8 87.0,484.7 87.8,484.7 88.6,484.4 89.4,484.8 90.2,484.7 91.0,485.0 91.8,484.9 92.6,484.7 93.4,484.8 94.2,484.3 95.0,484.0 95.8,484.3 96.6,484.2 97.4,484.1 98.2,483.8 99.0,483.9 99.8,483.4 100.6,483.2 101.4,483.0 102.2,482.6 103.0,482.6 103.8,482.3 104.6,481.2 105.4,481.7 106.2,480.9 107.0,480.9 107.8,480.8 108.6,480.3 109.4,480.1 110.2,479.1 111.0,478.9 111.8,478.2 112.6,476.4 113.4,476.8 114.2,475.1 115.0,475.0 115.8,473.8 116.6,474.3 117.4,472.8 118.2,469.7 119.0,470.5 119.8,469.4 120.6,469.3 121.4,467.7 122.2,468.9 123.0,467.7 123.8,465.4 124.6,464.1 125.4,464.6 126.2,463.4 127.0,462.8 127.8,461.8 128.6,462.2 129.4,461.8 130.2,459.3 131.0,460.8 131.8,459.2 132.6,458.2 133.4,458.2 134.2,456.0 135.0,456.6 135.8,455.7 136.6,456.8 137.4,456.2 138.2,454.4 139.0,454.5 139.8,455.7 140.6,454.8 141.4,455.4 142.2,455.9 143.0,454.5 143.8,457.9 144.6,457.6 145.4,458.5 146.2,460.3 147.0,462.5 147.8,461.3 148.6,462.9 149.4,464.4 150.2,465.6 151.0,466.8 151.8,469.0 152.6,469.0 153.4,472.2 154.2,471.6 155.0,474.1 155.8,474.1 156.6,474.2 157.4,476.0 158.2,477.1 159.0,477.2 159.8,478.5 160.6,479.4 161.4,480.0 162.2,479.5 163.0,480.6 163.8,481.2 164.6,482.5 165.4,482.1 166.2,483.3 167.0,482.9 167.8,483.8 168.6,482.9 169.4,484.4 170.2,483.6 171.0,483.9 171.8,484.8 172.6,484.5 173.4,484.1 174.2,484.3 175.0,485.0 175.8,484.9 176.6,485.0 177.4,485.0 178.2,485.0 179.0,484.5 179.8,484.9 180.6,485.0 181.4,485.0 182.2,484.8 183.0,484.8 183.8,485.0 184.6,484.7 185.4,485.0 186.2,485.0 187.0,484.9 187.8,484.7 188.6,485.0 189.4,485.0 190.2,484.8 191.0,484.9 191.8,484.8 192.6,484.8 193.4,485.0 194.2,484.9 195.0,484.8 195.8,485.0 196.6,484.7 197.4,485.0 198.2,485.0 199.0,484.7 199.8,484.9 200.6,485.0 201.4,484.9 202.2,484.8 203.0,485.0 203.8,484.9 204.6,485.0 205.4,485.0 206.2,485.0 207.0,484.8 207.8,485.0 208.6,485.0 209.4,484.9 210.2,485.0 211.0,485.0 211.8,484.9 212.6,485.0 213.4,485.0 214.2,485.0 215.0,485.0 215.8,484.4 216.6,485.0 217.4,485.0 218.2,485.0 219.0,485.0 219.8,484.7 220.6,485.0 221.4,484.9 222.2,485.0 223.0,484.7 223.8,485.0 224.6,485.0 225.4,484.9 226.2,485.0 227.0,484.9 227.8,485.0 228.6,485.0 229.4,485.0 230.2,485.0 231.0,485.0 231.8,484.8 232.6,485.0 233.4,485.0 234.2,485.0 235.0,485.0 235.8,485.0 236.6,484.7 237.4,485.0" fill="none" stroke="#e02020" stroke-width="0.9" stroke-linejoin="round"/>
<polyline points="47.0,485.0 47.8,485.0 48.6,485.0 49.4,485.0 50.2,485.0 51.0,485.0 51.8,485.0 52.6,485.0 53.4,485.0 54.2,484.9 55.0,485.0 55.8,484.5 56.6,484.9 57.4,484.9 58.2,485.0 59.0,484.6 59.8,485.0 60.6,485.0 61.4,485.0 62.2,484.5 63.0,485.0 63.8,484.2 64.6,484.6 65.4,485.0 66.2,484.5 67.0,483.7 67.8,484.6 68.6,484.7 69.4,483.8 70.2,483.3 71.0,483.3 71.8,483.8 72.6,483.3 73.4,483.0 74.2,482.3 75.0,481.5 75.8,482.5 76.6,481.3 77.4,482.1 78.2,481.1 79.0,481.8 79.8,481.3 80.6,480.0 81.4,480.6 82.2,478.6 83.0,479.3 83.8,478.2 84.6,477.7 85.4,477.3 86.2,476.2 87.0,474.5 87.8,471.4 88.6,475.6 89.4,473.1 90.2,472.9 91.0,473.0 91.8,470.6 92.6,471.3 93.4,469.4 94.2,466.6 95.0,470.5 95.8,466.3 96.6,465.1 97.4,466.4 98.2,463.2 99.0,462.7 99.8,463.0 100.6,459.6 101.4,463.1 102.2,459.1 103.0,459.9 103.8,460.8 104.6,458.7 105.4,458.5 106.2,455.9 107.0,459.8 107.8,457.1 108.6,457.3 109.4,453.3 110.2,458.3 111.0,454.2 111.8,459.5 112.6,455.9 113.4,457.2 114.2,456.9 115.0,459.6 115.8,462.7 116.6,463.0 117.4,459.3 118.2,462.4 119.0,465.5 119.8,464.0 120.6,467.9 121.4,469.3 122.2,471.3 123.0,469.4 123.8,469.9 124.6,474.8 125.4,474.5 126.2,474.9 127.0,474.9 127.8,480.3 128.6,478.8 129.4,479.2 130.2,481.6 131.0,480.8 131.8,481.6 132.6,481.8 133.4,483.0 134.2,482.9 135.0,483.7 135.8,483.4 136.6,483.9 137.4,484.3 138.2,484.9 139.0,483.8 139.8,484.2 140.6,484.4 141.4,485.0 142.2,484.9 143.0,484.3 143.8,484.7 144.6,485.0 145.4,484.9 146.2,484.9 147.0,485.0 147.8,485.0 148.6,484.7 149.4,484.8 150.2,485.0 151.0,485.0 151.8,485.0 152.6,485.0 153.4,484.8 154.2,485.0 155.0,484.7 155.8,485.0 156.6,485.0 157.4,485.0 158.2,485.0 159.0,485.0 159.8,485.0 160.6,484.9 161.4,484.7 162.2,485.0 163.0,485.0 163.8,484.4 164.6,484.9 165.4,485.0 166.2,485.0 167.0,485.0 167.8,484.9 168.6,484.9 169.4,484.6 170.2,484.7 171.0,484.8 171.8,484.7 172.6,485.0 173.4,485.0 174.2,485.0 175.0,485.0 175.8,485.0 176.6,485.0 177.4,484.8 178.2,485.0 179.0,485.0 179.8,485.0 180.6,484.6 181.4,485.0 182.2,485.0 183.0,485.0 183.8,485.0 184.6,485.0 185.4,485.0 186.2,485.0 187.0,484.9 187.8,484.9 188.6,485.0 189.4,485.0 190.2,484.7 191.0,485.0 191.8,484.9 192.6,484.8 193.4,485.0 194.2,484.7 195.0,484.9 195.8,485.0 196.6,484.9 197.4,484.8 198.2,484.8 199.0,485.0 199.8,484.9 200.6,484.6 201.4,484.9 202.2,484.7 203.0,484.7 203.8,485.0 204.6,484.8 205.4,485.0 206.2,484.7 207.0,485.0 207.8,485.0 208.6,485.0 209.4,485.0 210.2,484.9 211.0,484.9 211.8,485.0 212.6,485.0 213.4,484.9 214.2,484.9 215.0,485.0 215.8,484.3 216.6,484.7 217.4,485.0 218.2,484.8 219.0,484.6 219.8,484.9 220.6,485.0 221.4,485.0 222.2,485.0 223.0,484.4 223.8,485.0 224.6,484.6 225.4,485.0 226.2,484.8 227.0,485.0 227.8,485.0 228.6,484.7 229.4,485.0 230.2,484.7 231.0,485.0 231.8,485.0 232.6,485.0 233.4,485.0 234.2,485.0 235.0,484.6 235.8,485.0 236.6,485.0 237.4,485.0" fill="none" stroke="#7a3030" stroke-width="0.85" stroke-linejoin="round"/>
<polyline points="47.0,484.5 47.8,484.7 48.6,484.6 49.4,484.6 50.2,485.0 51.0,484.8 51.8,485.0 52.6,484.9 53.4,484.5 54.2,485.0 55.0,485.0 55.8,484.9 56.6,484.4 57.4,484.1 58.2,483.6 59.0,483.8 59.8,484.6 60.6,484.7 61.4,483.8 62.2,483.4 63.0,484.2 63.8,483.7 64.6,483.5 65.4,483.1 66.2,483.0 67.0,482.5 67.8,482.0 68.6,482.2 69.4,481.6 70.2,480.6 71.0,481.8 71.8,481.5 72.6,480.3 73.4,479.2 74.2,479.7 75.0,478.7 75.8,479.1 76.6,477.9 77.4,478.4 78.2,477.0 79.0,476.6 79.8,476.0 80.6,474.6 81.4,474.3 82.2,475.0 83.0,473.1 83.8,474.7 84.6,471.6 85.4,469.2 86.2,470.6 87.0,469.8 87.8,469.6 88.6,468.0 89.4,468.6 90.2,466.7 91.0,467.0 91.8,466.4 92.6,465.1 93.4,464.6 94.2,465.9 95.0,460.8 95.8,462.4 96.6,464.1 97.4,460.1 98.2,460.9 99.0,460.1 99.8,459.0 100.6,460.6 101.4,462.9 102.2,458.9 103.0,458.2 103.8,457.0 104.6,459.1 105.4,458.3 106.2,457.3 107.0,458.3 107.8,458.2 108.6,457.8 109.4,459.8 110.2,456.9 111.0,460.7 111.8,460.2 112.6,461.5 113.4,462.9 114.2,462.4 115.0,463.0 115.8,463.6 116.6,465.8 117.4,468.1 118.2,467.9 119.0,471.4 119.8,471.1 120.6,471.8 121.4,472.9 122.2,475.5 123.0,476.7 123.8,475.3 124.6,477.8 125.4,479.4 126.2,479.8 127.0,479.8 127.8,479.8 128.6,481.0 129.4,481.0 130.2,481.9 131.0,482.2 131.8,482.4 132.6,483.3 133.4,483.3 134.2,483.8 135.0,484.1 135.8,483.9 136.6,484.5 137.4,484.4 138.2,484.7 139.0,484.6 139.8,484.8 140.6,484.5 141.4,484.8 142.2,484.8 143.0,484.5 143.8,485.0 144.6,485.0 145.4,485.0 146.2,484.9 147.0,484.9 147.8,484.8 148.6,484.9 149.4,485.0 150.2,484.6 151.0,484.9 151.8,485.0 152.6,485.0 153.4,484.9 154.2,485.0 155.0,485.0 155.8,485.0 156.6,484.9 157.4,485.0 158.2,484.7 159.0,485.0 159.8,485.0 160.6,484.9 161.4,485.0 162.2,485.0 163.0,485.0 163.8,485.0 164.6,485.0 165.4,485.0 166.2,484.9 167.0,485.0 167.8,485.0 168.6,484.9 169.4,485.0 170.2,484.5 171.0,485.0 171.8,485.0 172.6,485.0 173.4,484.7 174.2,485.0 175.0,485.0 175.8,484.8 176.6,485.0 177.4,485.0 178.2,484.8 179.0,485.0 179.8,485.0 180.6,484.9 181.4,485.0 182.2,484.9 183.0,485.0 183.8,485.0 184.6,485.0 185.4,485.0 186.2,484.7 187.0,484.9 187.8,484.8 188.6,485.0 189.4,485.0 190.2,485.0 191.0,485.0 191.8,484.9 192.6,485.0 193.4,485.0 194.2,485.0 195.0,484.8 195.8,484.9 196.6,484.9 197.4,485.0 198.2,485.0 199.0,484.8 199.8,485.0 200.6,484.9 201.4,485.0 202.2,485.0 203.0,484.7 203.8,485.0 204.6,485.0 205.4,485.0 206.2,485.0 207.0,484.9 207.8,484.9 208.6,485.0 209.4,485.0 210.2,484.9 211.0,484.8 211.8,485.0 212.6,484.7 213.4,484.8 214.2,484.8 215.0,484.7 215.8,485.0 216.6,485.0 217.4,484.9 218.2,484.9 219.0,484.7 219.8,484.8 220.6,485.0 221.4,485.0 222.2,485.0 223.0,485.0 223.8,485.0 224.6,484.8 225.4,485.0 226.2,485.0 227.0,485.0 227.8,485.0 228.6,485.0 229.4,485.0 230.2,484.9 231.0,485.0 231.8,485.0 232.6,484.9 233.4,485.0 234.2,484.5 235.0,485.0 235.8,485.0 236.6,485.0 237.4,484.9" fill="none" stroke="#202020" stroke-width="0.9" stroke-linejoin="round"/>
<polyline points="47.0,472.8 47.8,474.7 48.6,476.3 49.4,475.8 50.2,476.2 51.0,475.9 51.8,473.2 52.6,473.3 53.4,472.8 54.2,469.6 55.0,470.7 55.8,470.1 56.6,468.7 57.4,468.4 58.2,466.8 59.0,466.0 59.8,466.0 60.6,464.6 61.4,463.1 62.2,462.2 63.0,461.2 63.8,460.2 64.6,460.2 65.4,459.3 66.2,459.9 67.0,459.2 67.8,457.2 68.6,460.8 69.4,457.5 70.2,453.7 71.0,460.3 71.8,456.0 72.6,460.4 73.4,458.0 74.2,456.9 75.0,457.7 75.8,461.5 76.6,462.8 77.4,463.9 78.2,462.3 79.0,464.6 79.8,465.3 80.6,466.2 81.4,467.2 82.2,468.3 83.0,469.9 83.8,472.8 84.6,471.1 85.4,475.9 86.2,473.5 87.0,476.1 87.8,476.7 88.6,477.8 89.4,478.6 90.2,479.1 91.0,480.0 91.8,481.1 92.6,480.6 93.4,481.9 94.2,481.4 95.0,482.6 95.8,483.1 96.6,483.0 97.4,483.1 98.2,484.0 99.0,484.0 99.8,483.7 100.6,484.6 101.4,484.6 102.2,484.5 103.0,484.9 103.8,485.0 104.6,485.0 105.4,484.7 106.2,484.7 107.0,484.7 107.8,484.8 108.6,485.0 109.4,484.8 110.2,484.7 111.0,485.0 111.8,484.8 112.6,485.0 113.4,484.9 114.2,484.9 115.0,485.0 115.8,484.7 116.6,485.0 117.4,485.0 118.2,485.0 119.0,484.9 119.8,484.9 120.6,485.0 121.4,484.7 122.2,484.9 123.0,485.0 123.8,485.0 124.6,485.0 125.4,485.0 126.2,485.0 127.0,485.0 127.8,484.9 128.6,484.8 129.4,484.6 130.2,484.8 131.0,485.0 131.8,484.9 132.6,485.0 133.4,484.9 134.2,484.9 135.0,485.0 135.8,485.0 136.6,485.0 137.4,485.0 138.2,484.7 139.0,484.4 139.8,484.8 140.6,484.8 141.4,485.0 142.2,485.0 143.0,484.6 143.8,485.0 144.6,484.9 145.4,485.0 146.2,484.9 147.0,485.0 147.8,484.9 148.6,485.0 149.4,485.0 150.2,484.7 151.0,485.0 151.8,485.0 152.6,484.7 153.4,484.9 154.2,484.8 155.0,485.0 155.8,485.0 156.6,485.0 157.4,485.0 158.2,484.9 159.0,484.8 159.8,485.0 160.6,485.0 161.4,485.0 162.2,485.0 163.0,485.0 163.8,484.6 164.6,484.9 165.4,485.0 166.2,485.0 167.0,484.5 167.8,484.6 168.6,485.0 169.4,484.9 170.2,484.7 171.0,485.0 171.8,485.0 172.6,484.7 173.4,485.0 174.2,485.0 175.0,485.0 175.8,485.0 176.6,484.9 177.4,485.0 178.2,485.0 179.0,485.0 179.8,484.7 180.6,485.0 181.4,485.0 182.2,485.0 183.0,484.9 183.8,485.0 184.6,485.0 185.4,484.9 186.2,485.0 187.0,484.8 187.8,485.0 188.6,484.8 189.4,485.0 190.2,485.0 191.0,484.7 191.8,485.0 192.6,484.9 193.4,485.0 194.2,484.8 195.0,484.8 195.8,484.8 196.6,484.9 197.4,485.0 198.2,485.0 199.0,485.0 199.8,485.0 200.6,484.9 201.4,485.0 202.2,485.0 203.0,485.0 203.8,485.0 204.6,485.0 205.4,485.0 206.2,484.9 207.0,484.7 207.8,485.0 208.6,485.0 209.4,484.7 210.2,484.8 211.0,485.0 211.8,485.0 212.6,485.0 213.4,485.0 214.2,485.0 215.0,484.6 215.8,485.0 216.6,484.9 217.4,485.0 218.2,485.0 219.0,485.0 219.8,485.0 220.6,485.0 221.4,484.9 222.2,485.0 223.0,484.8 223.8,485.0 224.6,485.0 225.4,485.0 226.2,484.7 227.0,485.0 227.8,484.9 228.6,485.0 229.4,484.9 230.2,484.9 231.0,485.0 231.8,485.0 232.6,485.0 233.4,484.9 234.2,485.0 235.0,484.8 235.8,485.0 236.6,484.6 237.4,484.7" fill="none" stroke="#101010" stroke-width="0.9" stroke-linejoin="round"/>
<line x1="46.50" y1="425.00" x2="46.50" y2="485.00" stroke="#5a4a4a" stroke-width="1"/>
<line x1="46.50" y1="485.00" x2="237.50" y2="485.00" stroke="#5a4a4a" stroke-width="1"/>
<line x1="95.00" y1="485.00" x2="95.00" y2="487.00" stroke="#5a4a4a" stroke-width="1"/>
<line x1="143.00" y1="485.00" x2="143.00" y2="487.00" stroke="#5a4a4a" stroke-width="1"/>
<line x1="190.00" y1="485.00" x2="190.00" y2="487.00" stroke="#5a4a4a" stroke-width="1"/>
<line x1="237.00" y1="485.00" x2="237.00" y2="487.00" stroke="#5a4a4a" stroke-width="1"/>
<text x="29.70" y="418.70" font-size="12.4" letter-spacing="0.3" stroke="#000" stroke-width="0.3">(1)</text>
<text x="41.20" y="480.00" font-size="10" font-weight="bold" transform="rotate(-90 41.20 480.00)" textLength="51.50" lengthAdjust="spacingAndGlyphs">Cell number</text>
<text x="120.30" y="500.00" font-size="10.9" textLength="45.60" lengthAdjust="spacingAndGlyphs" stroke="#000" stroke-width="0.4">FL 8 Log</text>
<polyline points="305.5,477.9 306.3,476.3 307.1,477.0 307.9,478.0 308.7,478.7 309.5,481.6 310.3,482.4 311.1,483.6 311.9,483.9 312.7,484.1 313.5,484.7 314.3,484.7 315.1,485.0 315.9,484.9 316.7,485.0 317.5,484.6 318.3,484.8 319.1,484.8 319.9,485.0 320.7,484.8 321.5,484.8 322.3,485.0 323.1,485.0 323.9,484.9 324.7,485.0 325.5,485.0 326.3,484.9 327.1,485.0 327.9,484.6 328.7,485.0 329.5,484.5 330.3,484.8 331.1,484.8 331.9,484.9 332.7,484.5 333.5,484.5 334.3,484.3 335.1,484.4 335.9,484.1 336.7,483.5 337.5,483.8 338.3,484.0 339.1,483.3 339.9,483.5 340.7,483.0 341.5,482.8 342.3,482.9 343.1,483.3 343.9,482.4 344.7,481.6 345.5,481.8 346.3,481.0 347.1,480.3 347.9,480.7 348.7,479.2 349.5,478.5 350.3,478.3 351.1,477.6 351.9,477.1 352.7,475.6 353.5,476.5 354.3,476.0 355.1,474.8 355.9,475.4 356.7,475.2 357.5,473.9 358.3,472.0 359.1,471.1 359.9,472.2 360.7,471.8 361.5,469.5 362.3,468.5 363.1,467.6 363.9,466.0 364.7,464.5 365.5,464.8 366.3,463.6 367.1,464.9 367.9,464.3 368.7,461.9 369.5,460.7 370.3,460.0 371.1,459.7 371.9,458.9 372.7,458.4 373.5,461.3 374.3,459.7 375.1,457.8 375.9,457.4 376.7,460.1 377.5,456.5 378.3,458.6 379.1,458.4 379.9,457.8 380.7,457.4 381.5,460.5 382.3,457.7 383.1,459.2 383.9,460.8 384.7,460.6 385.5,463.5 386.3,462.2 387.1,461.8 387.9,463.6 388.7,463.8 389.5,464.3 390.3,464.9 391.1,464.5 391.9,466.5 392.7,467.6 393.5,467.5 394.3,466.8 395.1,470.1 395.9,470.1 396.7,472.9 397.5,470.9 398.3,472.3 399.1,472.5 399.9,474.5 400.7,476.0 401.5,475.1 402.3,475.9 403.1,477.7 403.9,478.8 404.7,478.0 405.5,478.9 406.3,477.7 407.1,480.2 407.9,480.6 408.7,480.8 409.5,482.0 410.3,481.9 411.1,481.0 411.9,482.2 412.7,482.7 413.5,483.2 414.3,482.7 415.1,482.9 415.9,483.3 416.7,483.7 417.5,483.6 418.3,483.7 419.1,484.2 419.9,483.9 420.7,484.9 421.5,484.7 422.3,484.5 423.1,484.5 423.9,484.9 424.7,484.5 425.5,484.4 426.3,484.6 427.1,484.7 427.9,484.6 428.7,484.7 429.5,485.0 430.3,484.9 431.1,484.6 431.9,485.0 432.7,484.9 433.5,485.0 434.3,485.0 435.1,485.0 435.9,484.9 436.7,484.9 437.5,484.9 438.3,485.0 439.1,485.0 439.9,484.9 440.7,484.8 441.5,484.9 442.3,484.8 443.1,484.8 443.9,484.8 444.7,485.0 445.5,485.0 446.3,485.0 447.1,485.0 447.9,485.0 448.7,484.6 449.5,485.0 450.3,485.0 451.1,485.0 451.9,484.7 452.7,485.0 453.5,484.9 454.3,485.0 455.1,485.0 455.9,484.8 456.7,484.8 457.5,485.0 458.3,484.8 459.1,484.8 459.9,485.0 460.7,484.9 461.5,485.0 462.3,485.0 463.1,484.8 463.9,485.0 464.7,485.0 465.5,485.0 466.3,485.0 467.1,484.7 467.9,485.0 468.7,484.9 469.5,485.0 470.3,484.9 471.1,484.9 471.9,485.0 472.7,485.0 473.5,485.0 474.3,485.0 475.1,485.0 475.9,485.0 476.7,484.9 477.5,484.7 478.3,484.9 479.1,485.0 479.9,484.9 480.7,485.0 481.5,484.9 482.3,484.6 483.1,485.0 483.9,485.0 484.7,485.0 485.5,485.0 486.3,485.0 487.1,484.7 487.9,484.9 488.7,485.0 489.5,484.6 490.3,485.0 491.1,484.8 491.9,484.8 492.7,484.9 493.5,485.0 494.3,485.0 495.1,485.0 495.9,484.8" fill="none" stroke="#3030e0" stroke-width="0.85" stroke-linejoin="round"/>
<polyline points="305.5,481.3 306.3,479.4 307.1,479.3 307.9,480.5 308.7,482.1 309.5,482.1 310.3,483.2 311.1,483.3 311.9,483.7 312.7,484.5 313.5,485.0 314.3,484.9 315.1,485.0 315.9,484.8 316.7,484.6 317.5,484.9 318.3,484.5 319.1,484.6 319.9,484.8 320.7,485.0 321.5,484.9 322.3,485.0 323.1,484.7 323.9,484.9 324.7,484.6 325.5,484.8 326.3,485.0 327.1,484.7 327.9,484.6 328.7,484.4 329.5,485.0 330.3,485.0 331.1,484.7 331.9,485.0 332.7,485.0 333.5,484.9 334.3,483.9 335.1,484.7 335.9,484.8 336.7,484.6 337.5,484.4 338.3,483.9 339.1,483.9 339.9,483.9 340.7,484.1 341.5,483.9 342.3,484.1 343.1,484.3 343.9,482.8 344.7,483.7 345.5,482.9 346.3,483.3 347.1,483.1 347.9,482.9 348.7,483.3 349.5,482.5 350.3,482.0 351.1,481.5 351.9,481.5 352.7,480.9 353.5,481.0 354.3,480.9 355.1,481.8 355.9,480.6 356.7,478.8 357.5,479.4 358.3,478.6 359.1,478.9 359.9,478.8 360.7,476.3 361.5,477.1 362.3,475.7 363.1,476.0 363.9,476.2 364.7,477.5 365.5,474.9 366.3,475.9 367.1,476.0 367.9,472.1 368.7,472.0 369.5,471.5 370.3,471.5 371.1,471.0 371.9,470.0 372.7,469.7 373.5,469.2 374.3,467.8 375.1,471.0 375.9,466.5 376.7,467.8 377.5,465.4 378.3,464.5 379.1,466.5 379.9,463.9 380.7,463.4 381.5,464.9 382.3,464.3 383.1,463.1 383.9,465.8 384.7,463.1 385.5,462.0 386.3,462.5 387.1,463.9 387.9,462.0 388.7,459.2 389.5,459.3 390.3,461.2 391.1,462.1 391.9,461.0 392.7,461.0 393.5,462.1 394.3,461.8 395.1,460.7 395.9,460.6 396.7,465.6 397.5,461.5 398.3,463.1 399.1,462.4 399.9,464.6 400.7,464.6 401.5,463.9 402.3,470.3 403.1,465.6 403.9,468.0 404.7,471.2 405.5,472.9 406.3,470.4 407.1,472.7 407.9,471.4 408.7,473.0 409.5,474.1 410.3,473.9 411.1,475.4 411.9,475.6 412.7,476.3 413.5,477.4 414.3,477.6 415.1,478.3 415.9,480.4 416.7,480.1 417.5,480.5 418.3,481.1 419.1,482.2 419.9,482.0 420.7,481.9 421.5,482.3 422.3,482.0 423.1,483.2 423.9,483.4 424.7,483.7 425.5,483.8 426.3,484.0 427.1,484.6 427.9,484.0 428.7,483.9 429.5,484.0 430.3,484.8 431.1,484.6 431.9,484.1 432.7,484.7 433.5,484.6 434.3,484.8 435.1,484.5 435.9,484.6 436.7,484.3 437.5,484.8 438.3,484.8 439.1,485.0 439.9,485.0 440.7,485.0 441.5,485.0 442.3,485.0 443.1,484.7 443.9,485.0 444.7,484.9 445.5,485.0 446.3,484.9 447.1,484.6 447.9,485.0 448.7,484.9 449.5,485.0 450.3,484.9 451.1,484.9 451.9,485.0 452.7,485.0 453.5,485.0 454.3,485.0 455.1,485.0 455.9,484.8 456.7,485.0 457.5,484.9 458.3,484.9 459.1,485.0 459.9,484.8 460.7,485.0 461.5,484.9 462.3,484.7 463.1,485.0 463.9,485.0 464.7,485.0 465.5,484.5 466.3,485.0 467.1,485.0 467.9,484.8 468.7,485.0 469.5,485.0 470.3,485.0 471.1,485.0 471.9,485.0 472.7,485.0 473.5,485.0 474.3,485.0 475.1,485.0 475.9,484.8 476.7,484.8 477.5,484.9 478.3,485.0 479.1,485.0 479.9,484.9 480.7,484.9 481.5,484.8 482.3,485.0 483.1,485.0 483.9,484.9 484.7,485.0 485.5,485.0 486.3,484.9 487.1,485.0 487.9,485.0 488.7,484.8 489.5,485.0 490.3,484.9 491.1,485.0 491.9,485.0 492.7,485.0 493.5,484.9 494.3,484.9 495.1,485.0 495.9,484.6" fill="none" stroke="#a040e0" stroke-width="0.85" stroke-linejoin="round"/>
<polyline points="305.5,484.9 306.3,485.0 307.1,485.0 307.9,485.0 308.7,485.0 309.5,484.7 310.3,484.9 311.1,485.0 311.9,485.0 312.7,485.0 313.5,485.0 314.3,484.7 315.1,484.8 315.9,485.0 316.7,485.0 317.5,485.0 318.3,484.8 319.1,485.0 319.9,484.7 320.7,485.0 321.5,485.0 322.3,484.9 323.1,485.0 323.9,484.7 324.7,484.9 325.5,484.8 326.3,484.8 327.1,484.9 327.9,484.7 328.7,484.8 329.5,484.3 330.3,484.7 331.1,484.6 331.9,484.7 332.7,484.6 333.5,484.5 334.3,484.0 335.1,484.2 335.9,483.8 336.7,484.1 337.5,483.9 338.3,484.3 339.1,483.1 339.9,482.4 340.7,483.1 341.5,482.1 342.3,482.1 343.1,482.4 343.9,481.4 344.7,481.8 345.5,481.1 346.3,479.8 347.1,479.9 347.9,480.2 348.7,478.0 349.5,479.1 350.3,477.8 351.1,477.3 351.9,476.5 352.7,476.3 353.5,476.2 354.3,472.6 355.1,474.2 355.9,473.3 356.7,474.0 357.5,470.8 358.3,468.8 359.1,467.8 359.9,465.5 360.7,466.0 361.5,466.3 362.3,466.0 363.1,463.7 363.9,464.6 364.7,463.7 365.5,464.5 366.3,462.7 367.1,459.9 367.9,462.0 368.7,461.0 369.5,464.2 370.3,459.4 371.1,460.5 371.9,459.1 372.7,460.6 373.5,462.1 374.3,462.8 375.1,460.8 375.9,461.7 376.7,463.2 377.5,462.6 378.3,463.7 379.1,462.6 379.9,464.5 380.7,466.1 381.5,465.4 382.3,466.6 383.1,465.1 383.9,468.0 384.7,469.6 385.5,469.0 386.3,470.0 387.1,470.3 387.9,471.1 388.7,473.1 389.5,472.9 390.3,473.7 391.1,475.4 391.9,475.5 392.7,475.6 393.5,477.7 394.3,477.9 395.1,478.0 395.9,478.4 396.7,478.5 397.5,480.2 398.3,479.7 399.1,480.0 399.9,479.9 400.7,481.4 401.5,482.0 402.3,482.7 403.1,482.0 403.9,482.0 404.7,483.1 405.5,482.9 406.3,482.9 407.1,483.1 407.9,483.8 408.7,483.6 409.5,484.0 410.3,484.4 411.1,484.1 411.9,484.2 412.7,484.7 413.5,484.4 414.3,484.0 415.1,485.0 415.9,484.5 416.7,484.5 417.5,484.7 418.3,484.7 419.1,484.9 419.9,484.6 420.7,485.0 421.5,484.9 422.3,485.0 423.1,484.9 423.9,484.9 424.7,485.0 425.5,485.0 426.3,484.9 427.1,485.0 427.9,485.0 428.7,485.0 429.5,484.9 430.3,484.6 431.1,485.0 431.9,484.9 432.7,484.9 433.5,485.0 434.3,485.0 435.1,485.0 435.9,485.0 436.7,484.5 437.5,484.5 438.3,484.9 439.1,484.7 439.9,485.0 440.7,485.0 441.5,484.8 442.3,485.0 443.1,485.0 443.9,484.9 444.7,485.0 445.5,484.7 446.3,484.9 447.1,485.0 447.9,484.9 448.7,485.0 449.5,485.0 450.3,484.8 451.1,484.8 451.9,485.0 452.7,485.0 453.5,485.0 454.3,484.7 455.1,485.0 455.9,485.0 456.7,485.0 457.5,485.0 458.3,485.0 459.1,485.0 459.9,484.8 460.7,484.7 461.5,484.9 462.3,485.0 463.1,485.0 463.9,485.0 464.7,485.0 465.5,485.0 466.3,484.9 467.1,485.0 467.9,485.0 468.7,485.0 469.5,484.9 470.3,484.9 471.1,485.0 471.9,485.0 472.7,485.0 473.5,485.0 474.3,485.0 475.1,485.0 475.9,484.8 476.7,484.8 477.5,485.0 478.3,484.9 479.1,484.8 479.9,484.9 480.7,485.0 481.5,484.9 482.3,485.0 483.1,485.0 483.9,484.9 484.7,484.9 485.5,484.7 486.3,485.0 487.1,484.8 487.9,484.8 488.7,484.6 489.5,485.0 490.3,485.0 491.1,484.9 491.9,484.9 492.7,485.0 493.5,485.0 494.3,485.0 495.1,484.5 495.9,485.0" fill="none" stroke="#f08020" stroke-width="0.85" stroke-linejoin="round"/>
<polyline points="305.5,479.7 306.3,479.4 307.1,479.3 307.9,479.6 308.7,481.1 309.5,482.0 310.3,481.7 311.1,482.0 311.9,482.0 312.7,482.0 313.5,481.4 314.3,481.4 315.1,480.5 315.9,480.6 316.7,480.2 317.5,479.5 318.3,479.4 319.1,478.0 319.9,475.8 320.7,477.4 321.5,477.6 322.3,474.9 323.1,475.0 323.9,472.5 324.7,473.1 325.5,471.8 326.3,472.6 327.1,472.6 327.9,470.4 328.7,468.7 329.5,469.5 330.3,469.4 331.1,467.5 331.9,466.5 332.7,465.6 333.5,464.5 334.3,460.8 335.1,462.8 335.9,462.7 336.7,462.8 337.5,459.8 338.3,462.1 339.1,457.7 339.9,459.1 340.7,460.5 341.5,457.9 342.3,458.0 343.1,455.9 343.9,459.3 344.7,456.9 345.5,457.1 346.3,455.9 347.1,458.7 347.9,458.5 348.7,455.2 349.5,457.5 350.3,460.7 351.1,459.1 351.9,461.3 352.7,462.0 353.5,463.5 354.3,461.9 355.1,464.7 355.9,464.9 356.7,466.2 357.5,469.0 358.3,469.3 359.1,468.9 359.9,472.3 360.7,471.6 361.5,473.0 362.3,473.4 363.1,474.4 363.9,475.2 364.7,476.7 365.5,477.4 366.3,478.8 367.1,479.4 367.9,479.2 368.7,480.7 369.5,480.4 370.3,480.9 371.1,482.3 371.9,482.0 372.7,483.0 373.5,482.9 374.3,483.6 375.1,483.4 375.9,483.7 376.7,484.3 377.5,483.5 378.3,484.0 379.1,484.8 379.9,484.4 380.7,484.7 381.5,484.2 382.3,484.7 383.1,484.7 383.9,484.9 384.7,484.7 385.5,485.0 386.3,485.0 387.1,485.0 387.9,485.0 388.7,484.8 389.5,485.0 390.3,485.0 391.1,485.0 391.9,485.0 392.7,485.0 393.5,485.0 394.3,485.0 395.1,484.8 395.9,485.0 396.7,485.0 397.5,485.0 398.3,485.0 399.1,485.0 399.9,484.9 400.7,485.0 401.5,484.6 402.3,484.9 403.1,485.0 403.9,485.0 404.7,485.0 405.5,485.0 406.3,485.0 407.1,484.8 407.9,484.9 408.7,485.0 409.5,484.9 410.3,484.9 411.1,485.0 411.9,484.9 412.7,484.8 413.5,484.9 414.3,485.0 415.1,485.0 415.9,485.0 416.7,485.0 417.5,485.0 418.3,485.0 419.1,485.0 419.9,485.0 420.7,484.7 421.5,485.0 422.3,484.7 423.1,485.0 423.9,484.7 424.7,484.9 425.5,485.0 426.3,485.0 427.1,484.7 427.9,484.5 428.7,484.9 429.5,485.0 430.3,485.0 431.1,484.9 431.9,484.8 432.7,485.0 433.5,485.0 434.3,484.8 435.1,484.9 435.9,484.9 436.7,485.0 437.5,485.0 438.3,484.6 439.1,485.0 439.9,484.5 440.7,484.9 441.5,485.0 442.3,484.9 443.1,484.9 443.9,485.0 444.7,485.0 445.5,485.0 446.3,484.7 447.1,485.0 447.9,485.0 448.7,485.0 449.5,485.0 450.3,485.0 451.1,485.0 451.9,485.0 452.7,485.0 453.5,484.9 454.3,485.0 455.1,485.0 455.9,484.9 456.7,485.0 457.5,485.0 458.3,485.0 459.1,484.7 459.9,485.0 460.7,484.7 461.5,485.0 462.3,484.8 463.1,485.0 463.9,485.0 464.7,485.0 465.5,484.7 466.3,484.9 467.1,484.8 467.9,485.0 468.7,485.0 469.5,484.8 470.3,484.7 471.1,484.8 471.9,484.8 472.7,485.0 473.5,484.6 474.3,485.0 475.1,484.8 475.9,484.9 476.7,485.0 477.5,485.0 478.3,485.0 479.1,485.0 479.9,484.8 480.7,485.0 481.5,484.8 482.3,485.0 483.1,485.0 483.9,485.0 484.7,485.0 485.5,485.0 486.3,485.0 487.1,484.9 487.9,485.0 488.7,485.0 489.5,485.0 490.3,485.0 491.1,485.0 491.9,484.8 492.7,484.9 493.5,485.0 494.3,485.0 495.1,484.9 495.9,484.8" fill="none" stroke="#40c040" stroke-width="0.9" stroke-linejoin="round"/>
<polyline points="305.5,484.7 306.3,484.6 307.1,484.8 307.9,484.8 308.7,484.8 309.5,484.4 310.3,484.4 311.1,484.1 311.9,484.2 312.7,484.6 313.5,484.7 314.3,484.6 315.1,484.3 315.9,483.6 316.7,484.1 317.5,484.2 318.3,483.3 319.1,482.7 319.9,482.4 320.7,481.7 321.5,482.1 322.3,482.0 323.1,481.5 323.9,481.6 324.7,480.8 325.5,479.1 326.3,478.0 327.1,477.9 327.9,477.9 328.7,477.6 329.5,476.5 330.3,477.4 331.1,474.7 331.9,473.7 332.7,473.6 333.5,472.6 334.3,473.4 335.1,470.1 335.9,469.2 336.7,471.8 337.5,468.7 338.3,466.8 339.1,464.4 339.9,466.3 340.7,464.5 341.5,461.9 342.3,462.2 343.1,462.3 343.9,461.8 344.7,460.6 345.5,461.0 346.3,458.2 347.1,460.2 347.9,457.9 348.7,457.2 349.5,456.6 350.3,457.9 351.1,457.9 351.9,457.6 352.7,458.1 353.5,457.2 354.3,459.2 355.1,457.3 355.9,456.9 356.7,462.1 357.5,461.7 358.3,464.6 359.1,463.5 359.9,465.0 360.7,466.9 361.5,468.9 362.3,469.0 363.1,468.2 363.9,469.8 364.7,472.2 365.5,474.2 366.3,474.7 367.1,476.3 367.9,477.7 368.7,478.2 369.5,478.0 370.3,479.0 371.1,479.8 371.9,481.2 372.7,481.9 373.5,481.1 374.3,482.3 375.1,482.0 375.9,483.2 376.7,482.8 377.5,483.4 378.3,483.9 379.1,484.1 379.9,483.6 380.7,484.0 381.5,484.5 382.3,484.5 383.1,485.0 383.9,484.3 384.7,484.4 385.5,484.9 386.3,484.7 387.1,485.0 387.9,484.7 388.7,484.8 389.5,484.9 390.3,484.8 391.1,484.9 391.9,485.0 392.7,485.0 393.5,485.0 394.3,484.8 395.1,485.0 395.9,485.0 396.7,484.9 397.5,485.0 398.3,484.6 399.1,484.9 399.9,485.0 400.7,485.0 401.5,484.8 402.3,484.9 403.1,484.6 403.9,485.0 404.7,484.7 405.5,485.0 406.3,484.8 407.1,484.7 407.9,485.0 408.7,485.0 409.5,485.0 410.3,485.0 411.1,485.0 411.9,485.0 412.7,484.8 413.5,485.0 414.3,484.9 415.1,484.3 415.9,484.9 416.7,485.0 417.5,485.0 418.3,484.9 419.1,485.0 419.9,484.9 420.7,485.0 421.5,484.8 422.3,485.0 423.1,485.0 423.9,485.0 424.7,485.0 425.5,485.0 426.3,485.0 427.1,484.9 427.9,485.0 428.7,485.0 429.5,484.6 430.3,484.9 431.1,484.8 431.9,485.0 432.7,484.8 433.5,484.8 434.3,484.9 435.1,485.0 435.9,484.8 436.7,485.0 437.5,485.0 438.3,485.0 439.1,485.0 439.9,485.0 440.7,484.8 441.5,484.9 442.3,484.7 443.1,484.9 443.9,485.0 444.7,485.0 445.5,485.0 446.3,485.0 447.1,485.0 447.9,485.0 448.7,485.0 449.5,485.0 450.3,484.8 451.1,485.0 451.9,485.0 452.7,485.0 453.5,485.0 454.3,485.0 455.1,485.0 455.9,484.6 456.7,485.0 457.5,485.0 458.3,485.0 459.1,485.0 459.9,485.0 460.7,484.8 461.5,485.0 462.3,485.0 463.1,485.0 463.9,485.0 464.7,484.8 465.5,485.0 466.3,484.6 467.1,485.0 467.9,484.7 468.7,484.9 469.5,485.0 470.3,485.0 471.1,484.8 471.9,485.0 472.7,485.0 473.5,485.0 474.3,485.0 475.1,484.9 475.9,484.9 476.7,485.0 477.5,484.9 478.3,485.0 479.1,485.0 479.9,485.0 480.7,484.9 481.5,484.8 482.3,484.9 483.1,484.5 483.9,484.9 484.7,485.0 485.5,485.0 486.3,484.7 487.1,485.0 487.9,485.0 488.7,485.0 489.5,485.0 490.3,485.0 491.1,484.9 491.9,484.9 492.7,484.9 493.5,484.8 494.3,485.0 495.1,485.0 495.9,485.0" fill="none" stroke="#208020" stroke-width="0.85" stroke-linejoin="round"/>
<polyline points="305.5,485.0 306.3,484.8 307.1,484.9 307.9,484.9 308.7,485.0 309.5,485.0 310.3,485.0 311.1,485.0 311.9,485.0 312.7,485.0 313.5,485.0 314.3,485.0 315.1,484.7 315.9,484.4 316.7,484.8 317.5,485.0 318.3,485.0 319.1,484.5 319.9,484.9 320.7,484.8 321.5,484.8 322.3,485.0 323.1,484.4 323.9,484.9 324.7,484.7 325.5,485.0 326.3,484.0 327.1,484.3 327.9,484.5 328.7,484.7 329.5,484.5 330.3,484.8 331.1,483.8 331.9,484.2 332.7,483.4 333.5,483.2 334.3,482.2 335.1,482.8 335.9,482.4 336.7,481.9 337.5,482.2 338.3,481.5 339.1,480.7 339.9,479.5 340.7,479.2 341.5,479.3 342.3,477.4 343.1,478.1 343.9,478.3 344.7,474.6 345.5,475.2 346.3,474.8 347.1,474.7 347.9,472.8 348.7,469.3 349.5,470.3 350.3,466.3 351.1,467.9 351.9,465.3 352.7,465.7 353.5,465.3 354.3,464.1 355.1,462.8 355.9,463.3 356.7,462.4 357.5,458.9 358.3,456.6 359.1,457.5 359.9,457.0 360.7,458.0 361.5,454.0 362.3,453.7 363.1,457.2 363.9,454.8 364.7,455.4 365.5,457.5 366.3,452.3 367.1,453.3 367.9,455.3 368.7,454.1 369.5,458.1 370.3,457.7 371.1,456.9 371.9,460.7 372.7,460.9 373.5,464.1 374.3,462.9 375.1,463.5 375.9,467.9 376.7,468.9 377.5,469.3 378.3,468.8 379.1,472.3 379.9,473.9 380.7,474.2 381.5,474.0 382.3,477.7 383.1,477.3 383.9,477.0 384.7,478.9 385.5,479.9 386.3,479.7 387.1,481.8 387.9,480.2 388.7,481.7 389.5,482.7 390.3,482.8 391.1,483.2 391.9,483.6 392.7,484.3 393.5,484.0 394.3,484.8 395.1,483.8 395.9,484.8 396.7,484.8 397.5,484.9 398.3,484.5 399.1,484.8 399.9,484.4 400.7,485.0 401.5,484.8 402.3,484.9 403.1,485.0 403.9,484.7 404.7,484.6 405.5,484.6 406.3,485.0 407.1,484.9 407.9,485.0 408.7,485.0 409.5,485.0 410.3,485.0 411.1,484.9 411.9,484.7 412.7,484.6 413.5,485.0 414.3,485.0 415.1,484.9 415.9,485.0 416.7,484.9 417.5,485.0 418.3,485.0 419.1,484.9 419.9,484.9 420.7,485.0 421.5,485.0 422.3,485.0 423.1,484.6 423.9,484.9 424.7,484.7 425.5,484.6 426.3,485.0 427.1,484.8 427.9,484.9 428.7,484.7 429.5,485.0 430.3,485.0 431.1,485.0 431.9,485.0 432.7,485.0 433.5,485.0 434.3,484.9 435.1,485.0 435.9,485.0 436.7,485.0 437.5,485.0 438.3,484.9 439.1,484.7 439.9,485.0 440.7,485.0 441.5,484.9 442.3,485.0 443.1,485.0 443.9,485.0 444.7,484.6 445.5,485.0 446.3,485.0 447.1,485.0 447.9,485.0 448.7,485.0 449.5,484.8 450.3,484.9 451.1,484.9 451.9,485.0 452.7,485.0 453.5,484.3 454.3,485.0 455.1,484.7 455.9,485.0 456.7,485.0 457.5,484.9 458.3,485.0 459.1,485.0 459.9,485.0 460.7,484.7 461.5,484.9 462.3,485.0 463.1,484.8 463.9,485.0 464.7,484.9 465.5,484.9 466.3,485.0 467.1,485.0 467.9,485.0 468.7,485.0 469.5,484.6 470.3,484.8 471.1,484.9 471.9,484.8 472.7,485.0 473.5,484.9 474.3,485.0 475.1,485.0 475.9,485.0 476.7,485.0 477.5,485.0 478.3,484.9 479.1,485.0 479.9,484.8 480.7,485.0 481.5,484.8 482.3,485.0 483.1,484.8 483.9,484.9 484.7,485.0 485.5,485.0 486.3,485.0 487.1,485.0 487.9,484.9 488.7,485.0 489.5,485.0 490.3,484.8 491.1,484.7 491.9,484.7 492.7,485.0 493.5,485.0 494.3,484.8 495.1,484.8 495.9,485.0" fill="none" stroke="#e02020" stroke-width="0.9" stroke-linejoin="round"/>
<polyline points="305.5,484.6 306.3,484.8 307.1,485.0 307.9,484.8 308.7,485.0 309.5,485.0 310.3,485.0 311.1,485.0 311.9,485.0 312.7,485.0 313.5,485.0 314.3,485.0 315.1,485.0 315.9,485.0 316.7,485.0 317.5,485.0 318.3,484.7 319.1,485.0 319.9,485.0 320.7,485.0 321.5,485.0 322.3,485.0 323.1,484.9 323.9,485.0 324.7,485.0 325.5,484.8 326.3,484.9 327.1,485.0 327.9,485.0 328.7,484.9 329.5,484.8 330.3,485.0 331.1,484.7 331.9,484.7 332.7,484.5 333.5,484.7 334.3,484.6 335.1,485.0 335.9,484.8 336.7,484.2 337.5,484.4 338.3,484.6 339.1,484.1 339.9,484.2 340.7,483.9 341.5,484.1 342.3,483.4 343.1,482.8 343.9,483.0 344.7,482.6 345.5,482.7 346.3,481.8 347.1,481.7 347.9,481.8 348.7,480.7 349.5,480.0 350.3,478.8 351.1,477.8 351.9,477.8 352.7,477.1 353.5,475.4 354.3,475.7 355.1,474.2 355.9,473.1 356.7,471.9 357.5,471.2 358.3,467.8 359.1,467.2 359.9,467.2 360.7,467.4 361.5,465.2 362.3,462.7 363.1,464.6 363.9,458.1 364.7,460.2 365.5,459.2 366.3,457.4 367.1,459.4 367.9,456.7 368.7,456.2 369.5,454.7 370.3,456.8 371.1,454.3 371.9,453.4 372.7,454.7 373.5,456.1 374.3,456.9 375.1,458.7 375.9,457.7 376.7,457.0 377.5,456.6 378.3,458.3 379.1,459.2 379.9,462.5 380.7,463.6 381.5,466.2 382.3,466.5 383.1,468.2 383.9,468.6 384.7,469.0 385.5,471.0 386.3,472.5 387.1,472.7 387.9,473.2 388.7,474.7 389.5,477.9 390.3,476.3 391.1,478.7 391.9,480.1 392.7,480.1 393.5,480.0 394.3,482.6 395.1,481.1 395.9,482.1 396.7,482.4 397.5,483.5 398.3,483.5 399.1,484.0 399.9,483.4 400.7,484.3 401.5,484.1 402.3,484.5 403.1,484.9 403.9,484.3 404.7,484.4 405.5,484.4 406.3,484.9 407.1,484.8 407.9,484.7 408.7,484.8 409.5,484.9 410.3,484.5 411.1,485.0 411.9,484.8 412.7,485.0 413.5,484.7 414.3,485.0 415.1,485.0 415.9,484.8 416.7,485.0 417.5,485.0 418.3,485.0 419.1,485.0 419.9,484.9 420.7,484.9 421.5,484.7 422.3,485.0 423.1,484.7 423.9,484.9 424.7,485.0 425.5,484.7 426.3,485.0 427.1,484.9 427.9,485.0 428.7,485.0 429.5,485.0 430.3,485.0 431.1,485.0 431.9,485.0 432.7,484.8 433.5,484.9 434.3,485.0 435.1,485.0 435.9,485.0 436.7,484.7 437.5,485.0 438.3,484.8 439.1,485.0 439.9,485.0 440.7,484.7 441.5,485.0 442.3,485.0 443.1,484.9 443.9,484.8 444.7,484.9 445.5,484.9 446.3,484.7 447.1,484.9 447.9,484.8 448.7,485.0 449.5,485.0 450.3,484.6 451.1,485.0 451.9,485.0 452.7,485.0 453.5,485.0 454.3,484.6 455.1,485.0 455.9,485.0 456.7,485.0 457.5,484.6 458.3,485.0 459.1,484.7 459.9,484.9 460.7,484.9 461.5,485.0 462.3,485.0 463.1,485.0 463.9,485.0 464.7,485.0 465.5,484.8 466.3,485.0 467.1,485.0 467.9,485.0 468.7,485.0 469.5,484.5 470.3,485.0 471.1,485.0 471.9,485.0 472.7,485.0 473.5,485.0 474.3,485.0 475.1,485.0 475.9,484.8 476.7,485.0 477.5,485.0 478.3,484.8 479.1,485.0 479.9,484.6 480.7,485.0 481.5,485.0 482.3,485.0 483.1,484.9 483.9,485.0 484.7,484.9 485.5,484.6 486.3,484.9 487.1,484.8 487.9,485.0 488.7,484.9 489.5,485.0 490.3,485.0 491.1,485.0 491.9,484.6 492.7,485.0 493.5,485.0 494.3,485.0 495.1,484.8 495.9,484.9" fill="none" stroke="#202020" stroke-width="0.85" stroke-linejoin="round"/>
<polyline points="305.5,447.8 306.3,446.6 307.1,449.9 307.9,454.0 308.7,460.5 309.5,466.7 310.3,468.3 311.1,474.9 311.9,473.4 312.7,472.5 313.5,473.7 314.3,472.4 315.1,470.4 315.9,468.9 316.7,469.9 317.5,468.3 318.3,468.2 319.1,467.6 319.9,465.3 320.7,465.1 321.5,466.2 322.3,462.6 323.1,462.9 323.9,462.3 324.7,462.9 325.5,459.9 326.3,460.1 327.1,459.8 327.9,460.1 328.7,459.5 329.5,458.0 330.3,459.9 331.1,460.1 331.9,461.4 332.7,460.5 333.5,462.3 334.3,463.6 335.1,462.2 335.9,464.6 336.7,466.4 337.5,467.2 338.3,468.0 339.1,469.7 339.9,468.2 340.7,470.2 341.5,473.1 342.3,471.9 343.1,474.3 343.9,474.8 344.7,476.2 345.5,476.5 346.3,477.4 347.1,478.0 347.9,478.7 348.7,481.5 349.5,480.9 350.3,481.2 351.1,481.8 351.9,482.8 352.7,482.7 353.5,483.0 354.3,484.0 355.1,483.8 355.9,483.5 356.7,484.2 357.5,484.2 358.3,484.3 359.1,484.3 359.9,484.3 360.7,484.4 361.5,484.7 362.3,484.7 363.1,484.8 363.9,484.8 364.7,484.9 365.5,484.7 366.3,484.8 367.1,485.0 367.9,485.0 368.7,484.9 369.5,485.0 370.3,485.0 371.1,484.8 371.9,484.7 372.7,485.0 373.5,485.0 374.3,485.0 375.1,485.0 375.9,485.0 376.7,485.0 377.5,485.0 378.3,485.0 379.1,484.8 379.9,485.0 380.7,484.8 381.5,484.7 382.3,484.9 383.1,484.9 383.9,485.0 384.7,485.0 385.5,484.6 386.3,484.7 387.1,485.0 387.9,485.0 388.7,485.0 389.5,484.8 390.3,485.0 391.1,485.0 391.9,485.0 392.7,484.7 393.5,485.0 394.3,484.8 395.1,485.0 395.9,485.0 396.7,484.7 397.5,485.0 398.3,484.9 399.1,484.9 399.9,485.0 400.7,485.0 401.5,484.8 402.3,484.9 403.1,485.0 403.9,485.0 404.7,484.7 405.5,485.0 406.3,484.7 407.1,485.0 407.9,484.9 408.7,485.0 409.5,485.0 410.3,485.0 411.1,485.0 411.9,484.8 412.7,484.9 413.5,485.0 414.3,484.8 415.1,485.0 415.9,485.0 416.7,485.0 417.5,484.8 418.3,485.0 419.1,484.7 419.9,484.6 420.7,485.0 421.5,485.0 422.3,485.0 423.1,484.8 423.9,485.0 424.7,484.9 425.5,484.9 426.3,485.0 427.1,485.0 427.9,484.8 428.7,485.0 429.5,484.9 430.3,484.7 431.1,485.0 431.9,485.0 432.7,485.0 433.5,484.9 434.3,485.0 435.1,485.0 435.9,485.0 436.7,485.0 437.5,485.0 438.3,485.0 439.1,484.8 439.9,484.9 440.7,484.6 441.5,484.8 442.3,484.9 443.1,485.0 443.9,485.0 444.7,484.8 445.5,485.0 446.3,484.7 447.1,485.0 447.9,484.9 448.7,484.8 449.5,484.7 450.3,485.0 451.1,484.6 451.9,485.0 452.7,485.0 453.5,485.0 454.3,484.7 455.1,485.0 455.9,484.7 456.7,485.0 457.5,484.6 458.3,485.0 459.1,484.5 459.9,485.0 460.7,485.0 461.5,485.0 462.3,484.9 463.1,485.0 463.9,485.0 464.7,484.9 465.5,484.8 466.3,485.0 467.1,484.8 467.9,485.0 468.7,485.0 469.5,485.0 470.3,484.9 471.1,484.8 471.9,485.0 472.7,485.0 473.5,485.0 474.3,484.9 475.1,484.8 475.9,485.0 476.7,485.0 477.5,485.0 478.3,485.0 479.1,484.9 479.9,485.0 480.7,485.0 481.5,484.8 482.3,485.0 483.1,484.7 483.9,484.7 484.7,485.0 485.5,485.0 486.3,484.7 487.1,485.0 487.9,485.0 488.7,485.0 489.5,485.0 490.3,484.9 491.1,484.9 491.9,484.9 492.7,485.0 493.5,484.8 494.3,485.0 495.1,485.0 495.9,484.7" fill="none" stroke="#6a2020" stroke-width="0.9" stroke-linejoin="round"/>
<polyline points="305.5,455.0 306.3,455.5 307.1,458.0 307.9,461.4 308.7,468.8 309.5,473.1 310.3,477.7 311.1,476.1 311.9,473.0 312.7,472.3 313.5,473.1 314.3,472.9 315.1,472.6 315.9,471.6 316.7,470.2 317.5,470.5 318.3,468.2 319.1,467.4 319.9,467.7 320.7,467.1 321.5,466.3 322.3,464.9 323.1,464.0 323.9,462.6 324.7,464.6 325.5,462.6 326.3,461.8 327.1,461.2 327.9,460.3 328.7,461.6 329.5,459.6 330.3,458.4 331.1,460.6 331.9,459.6 332.7,460.5 333.5,461.5 334.3,462.7 335.1,462.8 335.9,461.5 336.7,464.4 337.5,466.0 338.3,466.6 339.1,466.2 339.9,468.5 340.7,468.0 341.5,469.2 342.3,470.6 343.1,470.4 343.9,473.8 344.7,474.1 345.5,474.7 346.3,475.2 347.1,477.2 347.9,477.5 348.7,477.0 349.5,478.8 350.3,478.7 351.1,480.0 351.9,480.8 352.7,480.7 353.5,480.9 354.3,481.9 355.1,482.8 355.9,483.0 356.7,483.1 357.5,483.4 358.3,483.8 359.1,483.5 359.9,484.2 360.7,483.8 361.5,484.5 362.3,484.6 363.1,484.2 363.9,484.4 364.7,484.7 365.5,484.8 366.3,484.8 367.1,484.8 367.9,484.8 368.7,484.7 369.5,485.0 370.3,484.9 371.1,484.9 371.9,485.0 372.7,484.8 373.5,484.7 374.3,485.0 375.1,485.0 375.9,485.0 376.7,484.8 377.5,485.0 378.3,485.0 379.1,485.0 379.9,484.9 380.7,484.9 381.5,484.8 382.3,485.0 383.1,485.0 383.9,485.0 384.7,485.0 385.5,484.9 386.3,484.9 387.1,485.0 387.9,485.0 388.7,485.0 389.5,484.8 390.3,485.0 391.1,484.9 391.9,485.0 392.7,484.9 393.5,485.0 394.3,485.0 395.1,485.0 395.9,484.7 396.7,485.0 397.5,485.0 398.3,485.0 399.1,484.9 399.9,484.9 400.7,485.0 401.5,485.0 402.3,485.0 403.1,485.0 403.9,484.9 404.7,485.0 405.5,485.0 406.3,485.0 407.1,485.0 407.9,484.8 408.7,485.0 409.5,484.9 410.3,484.9 411.1,485.0 411.9,484.7 412.7,485.0 413.5,485.0 414.3,484.8 415.1,484.9 415.9,484.9 416.7,485.0 417.5,485.0 418.3,485.0 419.1,485.0 419.9,485.0 420.7,485.0 421.5,484.8 422.3,485.0 423.1,484.9 423.9,485.0 424.7,485.0 425.5,484.9 426.3,484.8 427.1,484.9 427.9,485.0 428.7,485.0 429.5,485.0 430.3,484.8 431.1,485.0 431.9,485.0 432.7,484.9 433.5,484.9 434.3,485.0 435.1,484.9 435.9,484.9 436.7,485.0 437.5,485.0 438.3,484.9 439.1,484.7 439.9,484.6 440.7,485.0 441.5,485.0 442.3,485.0 443.1,485.0 443.9,485.0 444.7,485.0 445.5,485.0 446.3,485.0 447.1,484.9 447.9,485.0 448.7,485.0 449.5,485.0 450.3,485.0 451.1,485.0 451.9,485.0 452.7,485.0 453.5,484.8 454.3,485.0 455.1,484.9 455.9,485.0 456.7,485.0 457.5,484.9 458.3,484.9 459.1,484.9 459.9,485.0 460.7,484.9 461.5,485.0 462.3,484.9 463.1,484.8 463.9,485.0 464.7,485.0 465.5,484.7 466.3,485.0 467.1,485.0 467.9,484.9 468.7,484.8 469.5,484.9 470.3,485.0 471.1,485.0 471.9,485.0 472.7,484.9 473.5,485.0 474.3,485.0 475.1,485.0 475.9,485.0 476.7,484.9 477.5,484.8 478.3,485.0 479.1,485.0 479.9,485.0 480.7,484.8 481.5,485.0 482.3,484.8 483.1,485.0 483.9,485.0 484.7,484.9 485.5,484.8 486.3,485.0 487.1,484.7 487.9,485.0 488.7,484.8 489.5,484.7 490.3,485.0 491.1,485.0 491.9,484.6 492.7,484.9 493.5,485.0 494.3,484.9 495.1,485.0 495.9,485.0" fill="none" stroke="#101010" stroke-width="0.9" stroke-linejoin="round"/>
<line x1="305.00" y1="425.00" x2="305.00" y2="485.00" stroke="#5a4a4a" stroke-width="1"/>
<line x1="305.00" y1="485.00" x2="496.50" y2="485.00" stroke="#5a4a4a" stroke-width="1"/>
<line x1="353.80" y1="485.00" x2="353.80" y2="487.00" stroke="#5a4a4a" stroke-width="1"/>
<line x1="401.20" y1="485.00" x2="401.20" y2="487.00" stroke="#5a4a4a" stroke-width="1"/>
<line x1="448.50" y1="485.00" x2="448.50" y2="487.00" stroke="#5a4a4a" stroke-width="1"/>
<line x1="496.50" y1="485.00" x2="496.50" y2="487.00" stroke="#5a4a4a" stroke-width="1"/>
<text x="289.70" y="418.90" font-size="12.4" letter-spacing="0.3" stroke="#000" stroke-width="0.3">(2)</text>
<text x="299.60" y="480.80" font-size="10" font-weight="bold" transform="rotate(-90 299.60 480.80)" textLength="53.00" lengthAdjust="spacingAndGlyphs">Cell number</text>
<text x="379.80" y="500.00" font-size="10.9" textLength="45.60" lengthAdjust="spacingAndGlyphs" stroke="#000" stroke-width="0.4">FL 8 Log</text>
<line x1="47.80" y1="505.00" x2="47.80" y2="640.60" stroke="#111" stroke-width="2.0"/>
<line x1="46.80" y1="639.60" x2="247.70" y2="639.60" stroke="#111" stroke-width="2.0"/>
<line x1="43.30" y1="639.60" x2="47.80" y2="639.60" stroke="#111" stroke-width="1.6"/>
<text x="41.60" y="642.60" font-size="10" text-anchor="end" stroke="#000" stroke-width="0.3">0</text>
<line x1="43.30" y1="617.36" x2="47.80" y2="617.36" stroke="#111" stroke-width="1.6"/>
<text x="41.60" y="620.36" font-size="10" text-anchor="end" stroke="#000" stroke-width="0.3">20</text>
<line x1="43.30" y1="595.12" x2="47.80" y2="595.12" stroke="#111" stroke-width="1.6"/>
<text x="41.60" y="598.12" font-size="10" text-anchor="end" stroke="#000" stroke-width="0.3">40</text>
<line x1="43.30" y1="572.88" x2="47.80" y2="572.88" stroke="#111" stroke-width="1.6"/>
<text x="41.60" y="575.88" font-size="10" text-anchor="end" stroke="#000" stroke-width="0.3">60</text>
<line x1="43.30" y1="550.64" x2="47.80" y2="550.64" stroke="#111" stroke-width="1.6"/>
<text x="41.60" y="553.64" font-size="10" text-anchor="end" stroke="#000" stroke-width="0.3">80</text>
<line x1="43.30" y1="528.40" x2="47.80" y2="528.40" stroke="#111" stroke-width="1.6"/>
<text x="41.60" y="531.40" font-size="10" text-anchor="end" stroke="#000" stroke-width="0.3">100</text>
<line x1="43.30" y1="506.16" x2="47.80" y2="506.16" stroke="#111" stroke-width="1.6"/>
<text x="41.60" y="509.16" font-size="10" text-anchor="end" stroke="#000" stroke-width="0.3">120</text>
<rect x="51.50" y="617.03" width="20.60" height="22.57" fill="#000"/>
<line x1="61.80" y1="615.91" x2="61.80" y2="617.03" stroke="#000" stroke-width="1.4"/>
<line x1="56.60" y1="615.91" x2="67.00" y2="615.91" stroke="#000" stroke-width="1.9"/>
<line x1="61.80" y1="639.60" x2="61.80" y2="643.60" stroke="#111" stroke-width="1.4"/>
<rect x="81.00" y="578.55" width="20.30" height="61.05" fill="#000"/>
<line x1="91.15" y1="577.33" x2="91.15" y2="578.55" stroke="#000" stroke-width="1.4"/>
<line x1="85.95" y1="577.33" x2="96.35" y2="577.33" stroke="#000" stroke-width="1.9"/>
<line x1="91.15" y1="639.60" x2="91.15" y2="643.60" stroke="#111" stroke-width="1.4"/>
<rect x="109.20" y="533.52" width="20.30" height="106.08" fill="#000"/>
<line x1="119.35" y1="528.40" x2="119.35" y2="533.52" stroke="#000" stroke-width="1.4"/>
<line x1="114.15" y1="528.40" x2="124.55" y2="528.40" stroke="#000" stroke-width="1.9"/>
<line x1="119.35" y1="639.60" x2="119.35" y2="643.60" stroke="#111" stroke-width="1.4"/>
<rect x="138.00" y="526.18" width="20.30" height="113.42" fill="#000"/>
<line x1="148.15" y1="520.62" x2="148.15" y2="526.18" stroke="#000" stroke-width="1.4"/>
<line x1="142.95" y1="520.62" x2="153.35" y2="520.62" stroke="#000" stroke-width="1.9"/>
<line x1="148.15" y1="639.60" x2="148.15" y2="643.60" stroke="#111" stroke-width="1.4"/>
<rect x="166.50" y="518.39" width="20.20" height="121.21" fill="#000"/>
<line x1="176.60" y1="514.28" x2="176.60" y2="518.39" stroke="#000" stroke-width="1.4"/>
<line x1="171.40" y1="514.28" x2="181.80" y2="514.28" stroke="#000" stroke-width="1.9"/>
<line x1="176.60" y1="639.60" x2="176.60" y2="643.60" stroke="#111" stroke-width="1.4"/>
<rect x="194.50" y="591.78" width="20.80" height="47.82" fill="#000"/>
<line x1="204.90" y1="588.45" x2="204.90" y2="591.78" stroke="#000" stroke-width="1.4"/>
<line x1="199.70" y1="588.45" x2="210.10" y2="588.45" stroke="#000" stroke-width="1.9"/>
<line x1="204.90" y1="639.60" x2="204.90" y2="643.60" stroke="#111" stroke-width="1.4"/>
<rect x="222.80" y="590.67" width="20.30" height="48.93" fill="#000"/>
<line x1="232.95" y1="587.34" x2="232.95" y2="590.67" stroke="#000" stroke-width="1.4"/>
<line x1="227.75" y1="587.34" x2="238.15" y2="587.34" stroke="#000" stroke-width="1.9"/>
<line x1="232.95" y1="639.60" x2="232.95" y2="643.60" stroke="#111" stroke-width="1.4"/>
<text x="64.60" y="657.50" font-size="9.3" font-weight="bold" text-anchor="end" transform="rotate(-36 64.60 657.50)">M&#946;CD</text>
<text x="93.95" y="657.50" font-size="9.3" font-weight="bold" text-anchor="end" transform="rotate(-36 93.95 657.50)">Filipin</text>
<text x="122.15" y="657.50" font-size="9.3" font-weight="bold" text-anchor="end" transform="rotate(-36 122.15 657.50)">Amiloride</text>
<text x="150.95" y="657.50" font-size="9.3" font-weight="bold" text-anchor="end" transform="rotate(-36 150.95 657.50)">CPZ</text>
<text x="179.40" y="657.50" font-size="9.3" font-weight="bold" text-anchor="end" transform="rotate(-36 179.40 657.50)">NaN<tspan font-size="7.5" dy="2.2">3</tspan></text>
<text x="207.70" y="657.50" font-size="9.3" font-weight="bold" text-anchor="end" transform="rotate(-36 207.70 657.50)">Nocodazole</text>
<text x="235.75" y="657.50" font-size="9.3" font-weight="bold" text-anchor="end" transform="rotate(-36 235.75 657.50)">Monensin</text>
<text x="19.30" y="593.50" font-size="10.8" transform="rotate(-90 19.30 593.50)" textLength="45.00" lengthAdjust="spacingAndGlyphs" stroke="#000" stroke-width="0.3">% control</text>
<line x1="305.70" y1="503.20" x2="305.70" y2="641.70" stroke="#111" stroke-width="2.0"/>
<line x1="304.70" y1="640.70" x2="508.50" y2="640.70" stroke="#111" stroke-width="2.0"/>
<line x1="301.20" y1="640.70" x2="305.70" y2="640.70" stroke="#111" stroke-width="1.6"/>
<text x="297.60" y="643.70" font-size="10" text-anchor="end" stroke="#000" stroke-width="0.3">0</text>
<line x1="301.20" y1="621.20" x2="305.70" y2="621.20" stroke="#111" stroke-width="1.6"/>
<text x="297.60" y="624.20" font-size="10" text-anchor="end" stroke="#000" stroke-width="0.3">20</text>
<line x1="301.20" y1="601.70" x2="305.70" y2="601.70" stroke="#111" stroke-width="1.6"/>
<text x="297.60" y="604.70" font-size="10" text-anchor="end" stroke="#000" stroke-width="0.3">40</text>
<line x1="301.20" y1="582.20" x2="305.70" y2="582.20" stroke="#111" stroke-width="1.6"/>
<text x="297.60" y="585.20" font-size="10" text-anchor="end" stroke="#000" stroke-width="0.3">60</text>
<line x1="301.20" y1="562.70" x2="305.70" y2="562.70" stroke="#111" stroke-width="1.6"/>
<text x="297.60" y="565.70" font-size="10" text-anchor="end" stroke="#000" stroke-width="0.3">80</text>
<line x1="301.20" y1="543.20" x2="305.70" y2="543.20" stroke="#111" stroke-width="1.6"/>
<text x="297.60" y="546.20" font-size="10" text-anchor="end" stroke="#000" stroke-width="0.3">100</text>
<line x1="301.20" y1="523.70" x2="305.70" y2="523.70" stroke="#111" stroke-width="1.6"/>
<text x="297.60" y="526.70" font-size="10" text-anchor="end" stroke="#000" stroke-width="0.3">120</text>
<line x1="301.20" y1="504.20" x2="305.70" y2="504.20" stroke="#111" stroke-width="1.6"/>
<text x="297.60" y="507.20" font-size="10" text-anchor="end" stroke="#000" stroke-width="0.3">140</text>
<rect x="310.30" y="599.95" width="19.90" height="40.75" fill="#000"/>
<line x1="320.25" y1="596.05" x2="320.25" y2="599.95" stroke="#000" stroke-width="1.4"/>
<line x1="315.05" y1="596.05" x2="325.45" y2="596.05" stroke="#000" stroke-width="1.9"/>
<line x1="320.25" y1="640.70" x2="320.25" y2="644.70" stroke="#111" stroke-width="1.4"/>
<rect x="338.50" y="577.03" width="20.70" height="63.67" fill="#000"/>
<line x1="348.85" y1="576.16" x2="348.85" y2="577.03" stroke="#000" stroke-width="1.4"/>
<line x1="343.65" y1="576.16" x2="354.05" y2="576.16" stroke="#000" stroke-width="1.9"/>
<line x1="348.85" y1="640.70" x2="348.85" y2="644.70" stroke="#111" stroke-width="1.4"/>
<rect x="367.80" y="538.33" width="20.70" height="102.38" fill="#000"/>
<line x1="378.15" y1="526.62" x2="378.15" y2="538.33" stroke="#000" stroke-width="1.4"/>
<line x1="372.95" y1="526.62" x2="383.35" y2="526.62" stroke="#000" stroke-width="1.9"/>
<line x1="378.15" y1="640.70" x2="378.15" y2="644.70" stroke="#111" stroke-width="1.4"/>
<rect x="396.50" y="523.02" width="21.20" height="117.68" fill="#000"/>
<line x1="407.10" y1="515.90" x2="407.10" y2="523.02" stroke="#000" stroke-width="1.4"/>
<line x1="401.90" y1="515.90" x2="412.30" y2="515.90" stroke="#000" stroke-width="1.9"/>
<line x1="407.10" y1="640.70" x2="407.10" y2="644.70" stroke="#111" stroke-width="1.4"/>
<rect x="425.40" y="546.91" width="20.80" height="93.79" fill="#000"/>
<line x1="435.80" y1="541.25" x2="435.80" y2="546.91" stroke="#000" stroke-width="1.4"/>
<line x1="430.60" y1="541.25" x2="441.00" y2="541.25" stroke="#000" stroke-width="1.9"/>
<line x1="435.80" y1="640.70" x2="435.80" y2="644.70" stroke="#111" stroke-width="1.4"/>
<rect x="453.60" y="572.84" width="21.80" height="67.86" fill="#000"/>
<line x1="464.50" y1="568.16" x2="464.50" y2="572.84" stroke="#000" stroke-width="1.4"/>
<line x1="459.30" y1="568.16" x2="469.70" y2="568.16" stroke="#000" stroke-width="1.9"/>
<line x1="464.50" y1="640.70" x2="464.50" y2="644.70" stroke="#111" stroke-width="1.4"/>
<rect x="483.00" y="582.79" width="20.90" height="57.91" fill="#000"/>
<line x1="493.45" y1="582.59" x2="493.45" y2="582.79" stroke="#000" stroke-width="1.4"/>
<line x1="488.25" y1="582.59" x2="498.65" y2="582.59" stroke="#000" stroke-width="1.9"/>
<line x1="493.45" y1="640.70" x2="493.45" y2="644.70" stroke="#111" stroke-width="1.4"/>
<text x="323.05" y="658.50" font-size="9.3" font-weight="bold" text-anchor="end" transform="rotate(-36 323.05 658.50)">M&#946;CD</text>
<text x="351.65" y="658.50" font-size="9.3" font-weight="bold" text-anchor="end" transform="rotate(-36 351.65 658.50)">Filipin</text>
<text x="380.95" y="658.50" font-size="9.3" font-weight="bold" text-anchor="end" transform="rotate(-36 380.95 658.50)">Amiloride</text>
<text x="409.90" y="658.50" font-size="9.3" font-weight="bold" text-anchor="end" transform="rotate(-36 409.90 658.50)">CPZ</text>
<text x="438.60" y="658.50" font-size="9.3" font-weight="bold" text-anchor="end" transform="rotate(-36 438.60 658.50)">NaN<tspan font-size="7.5" dy="2.2">3</tspan></text>
<text x="467.30" y="658.50" font-size="9.3" font-weight="bold" text-anchor="end" transform="rotate(-36 467.30 658.50)">Nocodazole</text>
<text x="496.25" y="658.50" font-size="9.3" font-weight="bold" text-anchor="end" transform="rotate(-36 496.25 658.50)">Monensin</text>
<text x="276.60" y="594.60" font-size="10.8" transform="rotate(-90 276.60 594.60)" textLength="45.00" lengthAdjust="spacingAndGlyphs" stroke="#000" stroke-width="0.3">% control</text>
<text x="-1.20" y="715.70" font-size="20.4" font-weight="bold" textLength="15.60" lengthAdjust="spacingAndGlyphs" stroke="#000" stroke-width="0.4">D</text>
<text x="21.30" y="710.80" font-size="12.6" letter-spacing="0.1" stroke="#000" stroke-width="0.3">(1)</text>
<line x1="77.00" y1="705.80" x2="77.00" y2="821.90" stroke="#111" stroke-width="1.8"/>
<line x1="76.10" y1="821.00" x2="283.20" y2="821.00" stroke="#111" stroke-width="1.8"/>
<line x1="72.30" y1="821.00" x2="77.00" y2="821.00" stroke="#111" stroke-width="1.5"/>
<text x="70.00" y="824.00" font-size="9.2" text-anchor="end" stroke="#000" stroke-width="0.3">0</text>
<line x1="72.30" y1="806.75" x2="77.00" y2="806.75" stroke="#111" stroke-width="1.5"/>
<text x="70.00" y="809.75" font-size="9.2" text-anchor="end" textLength="27.30" lengthAdjust="spacingAndGlyphs" stroke="#000" stroke-width="0.3">10000</text>
<line x1="72.30" y1="792.50" x2="77.00" y2="792.50" stroke="#111" stroke-width="1.5"/>
<text x="70.00" y="795.50" font-size="9.2" text-anchor="end" textLength="27.30" lengthAdjust="spacingAndGlyphs" stroke="#000" stroke-width="0.3">20000</text>
<line x1="72.30" y1="778.25" x2="77.00" y2="778.25" stroke="#111" stroke-width="1.5"/>
<text x="70.00" y="781.25" font-size="9.2" text-anchor="end" textLength="27.30" lengthAdjust="spacingAndGlyphs" stroke="#000" stroke-width="0.3">30000</text>
<line x1="72.30" y1="764.00" x2="77.00" y2="764.00" stroke="#111" stroke-width="1.5"/>
<text x="70.00" y="767.00" font-size="9.2" text-anchor="end" textLength="27.30" lengthAdjust="spacingAndGlyphs" stroke="#000" stroke-width="0.3">40000</text>
<line x1="72.30" y1="749.75" x2="77.00" y2="749.75" stroke="#111" stroke-width="1.5"/>
<text x="70.00" y="752.75" font-size="9.2" text-anchor="end" textLength="27.30" lengthAdjust="spacingAndGlyphs" stroke="#000" stroke-width="0.3">50000</text>
<line x1="72.30" y1="735.50" x2="77.00" y2="735.50" stroke="#111" stroke-width="1.5"/>
<text x="70.00" y="738.50" font-size="9.2" text-anchor="end" textLength="27.30" lengthAdjust="spacingAndGlyphs" stroke="#000" stroke-width="0.3">60000</text>
<line x1="72.30" y1="721.25" x2="77.00" y2="721.25" stroke="#111" stroke-width="1.5"/>
<text x="70.00" y="724.25" font-size="9.2" text-anchor="end" textLength="27.30" lengthAdjust="spacingAndGlyphs" stroke="#000" stroke-width="0.3">70000</text>
<line x1="72.30" y1="707.00" x2="77.00" y2="707.00" stroke="#111" stroke-width="1.5"/>
<text x="70.00" y="710.00" font-size="9.2" text-anchor="end" textLength="27.30" lengthAdjust="spacingAndGlyphs" stroke="#000" stroke-width="0.3">80000</text>
<text x="33.40" y="804.60" font-size="11.3" font-weight="bold" transform="rotate(-90 33.40 804.60)" textLength="79.00" lengthAdjust="spacingAndGlyphs">Band intensity</text>
<rect x="81.10" y="821.09" width="7.0" height="0.30" rx="1" fill="#000" stroke="#000" stroke-width="1.65"/>
<rect x="92.40" y="820.66" width="7.0" height="0.34" rx="1" fill="url(#pg)" stroke="#000" stroke-width="1.65"/>
<rect x="103.70" y="821.09" width="7.0" height="0.30" rx="1" fill="url(#pl)" stroke="#000" stroke-width="1.65"/>
<rect x="115.00" y="818.52" width="7.0" height="2.48" rx="1" fill="#fff" stroke="#000" stroke-width="1.65"/>
<line x1="101.55" y1="821.00" x2="101.55" y2="824.20" stroke="#111" stroke-width="1.3"/>
<text x="101.55" y="834.20" font-size="9.5" text-anchor="middle" stroke="#000" stroke-width="0.3">fraction#1</text>
<rect x="133.60" y="813.39" width="7.0" height="7.61" rx="1" fill="#000" stroke="#000" stroke-width="1.65"/>
<rect x="144.90" y="810.40" width="7.0" height="10.60" rx="1" fill="url(#pg)" stroke="#000" stroke-width="1.65"/>
<rect x="156.20" y="807.98" width="7.0" height="13.02" rx="1" fill="url(#pl)" stroke="#000" stroke-width="1.65"/>
<rect x="167.50" y="775.34" width="7.0" height="45.66" rx="1" fill="#fff" stroke="#000" stroke-width="1.65"/>
<line x1="154.05" y1="821.00" x2="154.05" y2="824.20" stroke="#111" stroke-width="1.3"/>
<text x="154.05" y="834.20" font-size="9.5" text-anchor="middle" stroke="#000" stroke-width="0.3">fraction#2</text>
<rect x="185.30" y="805.55" width="7.0" height="15.45" rx="1" fill="#000" stroke="#000" stroke-width="1.65"/>
<rect x="196.60" y="806.27" width="7.0" height="14.73" rx="1" fill="url(#pg)" stroke="#000" stroke-width="1.65"/>
<rect x="207.90" y="795.58" width="7.0" height="25.42" rx="1" fill="url(#pl)" stroke="#000" stroke-width="1.65"/>
<rect x="219.20" y="777.05" width="7.0" height="43.95" rx="1" fill="#fff" stroke="#000" stroke-width="1.65"/>
<line x1="205.75" y1="821.00" x2="205.75" y2="824.20" stroke="#111" stroke-width="1.3"/>
<text x="205.75" y="834.20" font-size="9.5" text-anchor="middle" stroke="#000" stroke-width="0.3">fraction#3</text>
<rect x="237.10" y="715.92" width="7.0" height="105.08" rx="1" fill="#000" stroke="#000" stroke-width="1.65"/>
<rect x="248.40" y="712.79" width="7.0" height="108.21" rx="1" fill="url(#pg)" stroke="#000" stroke-width="1.65"/>
<rect x="259.70" y="718.34" width="7.0" height="102.66" rx="1" fill="url(#pl)" stroke="#000" stroke-width="1.65"/>
<rect x="271.00" y="728.03" width="7.0" height="92.96" rx="1" fill="#fff" stroke="#000" stroke-width="1.65"/>
<line x1="257.55" y1="821.00" x2="257.55" y2="824.20" stroke="#111" stroke-width="1.3"/>
<text x="257.55" y="834.20" font-size="9.5" text-anchor="middle" stroke="#000" stroke-width="0.3">fraction#4</text>
<rect x="90.9" y="709.20" width="19.0" height="5.6" rx="1.2" fill="#000" stroke="#000" stroke-width="1.8"/>
<text x="113.60" y="715.20" font-size="8.8" stroke="#000" stroke-width="0.3">0 min</text>
<rect x="90.9" y="722.27" width="19.0" height="5.6" rx="1.2" fill="url(#pg)" stroke="#000" stroke-width="1.8"/>
<text x="113.60" y="728.27" font-size="8.8" stroke="#000" stroke-width="0.3">5 min</text>
<rect x="90.9" y="735.34" width="19.0" height="5.6" rx="1.2" fill="url(#pl)" stroke="#000" stroke-width="1.8"/>
<text x="113.60" y="741.34" font-size="8.8" stroke="#000" stroke-width="0.3">30 min</text>
<rect x="90.9" y="748.41" width="19.0" height="5.6" rx="1.2" fill="#fff" stroke="#000" stroke-width="1.8"/>
<text x="113.60" y="754.41" font-size="8.8" stroke="#000" stroke-width="0.3">60 min</text>
<text x="300.80" y="721.80" font-size="12.4" letter-spacing="0.3" stroke="#000" stroke-width="0.3">(2)</text>
<text x="344.00" y="721.90" font-size="11" stroke="#000" stroke-width="0.3">Caveolin-1</text>
<text x="462.00" y="721.90" font-size="11.5" stroke="#000" stroke-width="0.3">Golgi</text>
<svg x="325.8" y="726.4" width="87" height="91.6" overflow="hidden"><rect width="87" height="91.6" fill="#000"/>
<g filter="url(#b2)" opacity="0.55">
<path d="M17,33 C19,23 30,19 40,20 C48,19 55,23 60,29 C68,29 73,35 72,44 C71,54 66,59 58,59 C50,59 45,55 42,57 C40,65 36,68 28,68 C19,67 15,60 16,50 C17,42 15,38 17,33 Z" fill="#2a9a22"/>
</g>
<g filter="url(#b1)">
<circle cx="59.5" cy="28.1" r="0.87" fill="#5cd040" opacity="0.62"/>
<circle cx="68.6" cy="38.7" r="0.89" fill="#5cd040" opacity="0.78"/>
<circle cx="19.7" cy="44.3" r="1.59" fill="#5cd040" opacity="0.40"/>
<circle cx="39.9" cy="23.4" r="0.98" fill="#5cd040" opacity="0.39"/>
<circle cx="68.3" cy="36.8" r="1.32" fill="#5cd040" opacity="0.52"/>
<circle cx="68.1" cy="40.0" r="1.18" fill="#5cd040" opacity="0.68"/>
<circle cx="48.5" cy="33.6" r="1.43" fill="#5cd040" opacity="0.39"/>
<circle cx="55.0" cy="28.8" r="1.24" fill="#5cd040" opacity="0.49"/>
<circle cx="29.0" cy="66.4" r="1.02" fill="#5cd040" opacity="0.31"/>
<circle cx="37.0" cy="45.0" r="1.37" fill="#5cd040" opacity="0.59"/>
<circle cx="23.1" cy="39.1" r="1.31" fill="#5cd040" opacity="0.31"/>
<circle cx="17.0" cy="44.7" r="1.37" fill="#5cd040" opacity="0.34"/>
<circle cx="14.1" cy="48.0" r="0.81" fill="#5cd040" opacity="0.31"/>
<circle cx="41.6" cy="39.2" r="1.51" fill="#5cd040" opacity="0.58"/>
<circle cx="19.7" cy="46.2" r="1.10" fill="#5cd040" opacity="0.61"/>
<circle cx="32.3" cy="21.3" r="1.02" fill="#5cd040" opacity="0.39"/>
<circle cx="45.6" cy="45.8" r="1.51" fill="#5cd040" opacity="0.70"/>
<circle cx="41.6" cy="41.5" r="0.81" fill="#5cd040" opacity="0.37"/>
<circle cx="53.0" cy="28.1" r="1.35" fill="#5cd040" opacity="0.62"/>
<circle cx="21.3" cy="25.4" r="1.47" fill="#5cd040" opacity="0.31"/>
<circle cx="36.6" cy="54.0" r="1.50" fill="#5cd040" opacity="0.76"/>
<circle cx="58.8" cy="28.0" r="0.81" fill="#5cd040" opacity="0.44"/>
<circle cx="36.5" cy="23.2" r="1.41" fill="#5cd040" opacity="0.36"/>
<circle cx="25.2" cy="44.1" r="0.86" fill="#5cd040" opacity="0.39"/>
<circle cx="20.7" cy="28.0" r="1.08" fill="#5cd040" opacity="0.60"/>
<circle cx="47.8" cy="48.7" r="0.81" fill="#5cd040" opacity="0.59"/>
<circle cx="21.2" cy="26.6" r="1.31" fill="#5cd040" opacity="0.78"/>
<circle cx="36.7" cy="43.3" r="1.49" fill="#5cd040" opacity="0.77"/>
<circle cx="51.9" cy="28.8" r="1.16" fill="#5cd040" opacity="0.57"/>
<circle cx="51.0" cy="28.4" r="0.81" fill="#5cd040" opacity="0.65"/>
<circle cx="41.7" cy="27.6" r="1.26" fill="#5cd040" opacity="0.32"/>
<circle cx="61.0" cy="29.3" r="1.33" fill="#5cd040" opacity="0.69"/>
<circle cx="37.0" cy="56.4" r="1.29" fill="#5cd040" opacity="0.48"/>
<circle cx="30.4" cy="42.6" r="1.14" fill="#5cd040" opacity="0.77"/>
<circle cx="36.1" cy="56.9" r="1.58" fill="#5cd040" opacity="0.70"/>
<circle cx="59.9" cy="52.7" r="1.05" fill="#5cd040" opacity="0.65"/>
<circle cx="31.4" cy="42.9" r="1.04" fill="#5cd040" opacity="0.51"/>
<circle cx="42.3" cy="34.7" r="0.81" fill="#5cd040" opacity="0.74"/>
<circle cx="21.9" cy="38.8" r="1.25" fill="#5cd040" opacity="0.49"/>
<circle cx="27.6" cy="44.3" r="1.45" fill="#5cd040" opacity="0.50"/>
<circle cx="39.4" cy="40.0" r="1.11" fill="#5cd040" opacity="0.49"/>
<circle cx="53.4" cy="27.4" r="0.92" fill="#5cd040" opacity="0.60"/>
<circle cx="62.8" cy="31.0" r="1.14" fill="#5cd040" opacity="0.77"/>
<circle cx="12.9" cy="53.5" r="1.05" fill="#5cd040" opacity="0.70"/>
<circle cx="46.6" cy="35.9" r="0.99" fill="#5cd040" opacity="0.39"/>
<circle cx="16.7" cy="49.4" r="1.08" fill="#5cd040" opacity="0.63"/>
<circle cx="23.5" cy="65.3" r="1.18" fill="#5cd040" opacity="0.68"/>
<circle cx="31.2" cy="44.5" r="1.59" fill="#5cd040" opacity="0.55"/>
<circle cx="55.3" cy="52.7" r="1.40" fill="#5cd040" opacity="0.46"/>
<circle cx="14.0" cy="55.0" r="1.54" fill="#5cd040" opacity="0.31"/>
<circle cx="64.5" cy="32.8" r="1.47" fill="#5cd040" opacity="0.70"/>
<circle cx="43.1" cy="35.7" r="0.88" fill="#5cd040" opacity="0.67"/>
<circle cx="41.7" cy="26.8" r="0.83" fill="#5cd040" opacity="0.35"/>
<circle cx="44.0" cy="37.8" r="0.97" fill="#5cd040" opacity="0.53"/>
<circle cx="23.8" cy="66.5" r="1.08" fill="#5cd040" opacity="0.43"/>
<circle cx="68.4" cy="33.0" r="1.17" fill="#5cd040" opacity="0.50"/>
<circle cx="43.4" cy="38.5" r="1.15" fill="#5cd040" opacity="0.47"/>
<circle cx="68.9" cy="36.3" r="0.91" fill="#5cd040" opacity="0.57"/>
<circle cx="36.9" cy="23.4" r="1.09" fill="#5cd040" opacity="0.66"/>
<circle cx="47.4" cy="36.6" r="1.06" fill="#5cd040" opacity="0.67"/>
<circle cx="43.5" cy="37.4" r="1.04" fill="#5cd040" opacity="0.64"/>
<circle cx="69.4" cy="45.1" r="1.41" fill="#5cd040" opacity="0.74"/>
<circle cx="45.8" cy="38.5" r="0.88" fill="#5cd040" opacity="0.56"/>
<circle cx="52.1" cy="51.8" r="0.93" fill="#5cd040" opacity="0.32"/>
<circle cx="59.8" cy="29.2" r="1.50" fill="#5cd040" opacity="0.66"/>
<circle cx="28.2" cy="43.6" r="1.21" fill="#5cd040" opacity="0.61"/>
<circle cx="29.3" cy="42.8" r="1.39" fill="#5cd040" opacity="0.77"/>
<circle cx="35.5" cy="56.6" r="1.00" fill="#5cd040" opacity="0.30"/>
<circle cx="44.6" cy="35.3" r="0.88" fill="#5cd040" opacity="0.69"/>
<circle cx="44.8" cy="37.8" r="1.09" fill="#5cd040" opacity="0.44"/>
<circle cx="19.6" cy="66.4" r="1.34" fill="#5cd040" opacity="0.37"/>
<circle cx="17.0" cy="63.1" r="1.02" fill="#5cd040" opacity="0.77"/>
<circle cx="29.2" cy="22.8" r="1.22" fill="#5cd040" opacity="0.42"/>
<circle cx="19.7" cy="66.1" r="1.00" fill="#5cd040" opacity="0.64"/>
<circle cx="26.0" cy="65.2" r="1.51" fill="#5cd040" opacity="0.33"/>
<circle cx="28.3" cy="66.6" r="1.09" fill="#5cd040" opacity="0.38"/>
<circle cx="32.0" cy="63.7" r="1.52" fill="#5cd040" opacity="0.67"/>
<circle cx="44.5" cy="40.8" r="0.98" fill="#5cd040" opacity="0.52"/>
<circle cx="36.0" cy="23.5" r="1.06" fill="#5cd040" opacity="0.69"/>
<circle cx="22.8" cy="65.6" r="0.88" fill="#5cd040" opacity="0.72"/>
<circle cx="65.1" cy="46.4" r="1.01" fill="#5cd040" opacity="0.76"/>
<circle cx="34.9" cy="63.5" r="0.97" fill="#5cd040" opacity="0.71"/>
<circle cx="25.6" cy="43.8" r="0.87" fill="#5cd040" opacity="0.49"/>
<circle cx="66.2" cy="34.0" r="1.25" fill="#5cd040" opacity="0.76"/>
<circle cx="28.8" cy="21.9" r="1.34" fill="#5cd040" opacity="0.33"/>
<circle cx="36.4" cy="51.1" r="1.23" fill="#5cd040" opacity="0.57"/>
<circle cx="27.3" cy="44.0" r="1.22" fill="#5cd040" opacity="0.38"/>
<circle cx="23.9" cy="43.2" r="1.56" fill="#5cd040" opacity="0.58"/>
<circle cx="51.9" cy="49.0" r="0.98" fill="#5cd040" opacity="0.59"/>
<circle cx="48.5" cy="29.8" r="0.83" fill="#5cd040" opacity="0.74"/>
<circle cx="22.5" cy="39.2" r="1.28" fill="#5cd040" opacity="0.48"/>
<circle cx="24.4" cy="43.1" r="1.14" fill="#5cd040" opacity="0.78"/>
<circle cx="31.5" cy="44.3" r="1.38" fill="#5cd040" opacity="0.48"/>
<circle cx="32.6" cy="44.6" r="1.46" fill="#5cd040" opacity="0.59"/>
<circle cx="15.3" cy="48.0" r="1.41" fill="#5cd040" opacity="0.34"/>
<circle cx="68.6" cy="38.4" r="1.17" fill="#5cd040" opacity="0.55"/>
<circle cx="30.9" cy="21.3" r="1.04" fill="#5cd040" opacity="0.43"/>
<circle cx="46.4" cy="39.2" r="0.84" fill="#5cd040" opacity="0.66"/>
<circle cx="65.3" cy="50.1" r="1.47" fill="#5cd040" opacity="0.35"/>
<circle cx="45.1" cy="42.4" r="1.08" fill="#5cd040" opacity="0.48"/>
<circle cx="45.0" cy="29.6" r="1.43" fill="#5cd040" opacity="0.39"/>
<circle cx="23.9" cy="41.4" r="1.52" fill="#5cd040" opacity="0.30"/>
<circle cx="41.1" cy="26.4" r="0.80" fill="#5cd040" opacity="0.78"/>
<circle cx="43.6" cy="30.4" r="1.37" fill="#5cd040" opacity="0.33"/>
<circle cx="45.5" cy="36.1" r="1.05" fill="#5cd040" opacity="0.63"/>
<circle cx="45.1" cy="41.5" r="1.19" fill="#5cd040" opacity="0.47"/>
<circle cx="44.5" cy="39.3" r="0.91" fill="#5cd040" opacity="0.63"/>
<circle cx="29.4" cy="66.3" r="1.39" fill="#5cd040" opacity="0.62"/>
<circle cx="28.9" cy="42.4" r="1.51" fill="#5cd040" opacity="0.57"/>
<circle cx="52.6" cy="52.2" r="1.26" fill="#5cd040" opacity="0.37"/>
<circle cx="15.3" cy="61.1" r="1.01" fill="#5cd040" opacity="0.38"/>
<circle cx="32.9" cy="22.3" r="1.57" fill="#5cd040" opacity="0.64"/>
<circle cx="17.3" cy="61.7" r="1.08" fill="#5cd040" opacity="0.58"/>
<circle cx="44.4" cy="34.1" r="0.97" fill="#5cd040" opacity="0.38"/>
<circle cx="39.3" cy="42.7" r="1.01" fill="#5cd040" opacity="0.64"/>
<circle cx="20.7" cy="33.2" r="1.57" fill="#5cd040" opacity="0.77"/>
<circle cx="35.8" cy="44.1" r="1.08" fill="#5cd040" opacity="0.48"/>
<circle cx="68.9" cy="37.1" r="1.55" fill="#5cd040" opacity="0.47"/>
<circle cx="49.2" cy="30.1" r="0.98" fill="#5cd040" opacity="0.32"/>
<circle cx="62.0" cy="28.2" r="0.84" fill="#5cd040" opacity="0.74"/>
<circle cx="21.2" cy="34.4" r="0.94" fill="#5cd040" opacity="0.56"/>
<circle cx="43.8" cy="32.7" r="1.35" fill="#5cd040" opacity="0.45"/>
<circle cx="34.3" cy="64.5" r="0.88" fill="#5cd040" opacity="0.43"/>
<circle cx="13.0" cy="51.8" r="1.05" fill="#5cd040" opacity="0.33"/>
<circle cx="30.6" cy="45.5" r="0.82" fill="#5cd040" opacity="0.66"/>
<circle cx="48.1" cy="33.2" r="1.17" fill="#5cd040" opacity="0.32"/>
<circle cx="20.9" cy="33.7" r="1.25" fill="#5cd040" opacity="0.64"/>
<circle cx="34.1" cy="62.5" r="1.03" fill="#5cd040" opacity="0.42"/>
<circle cx="47.1" cy="33.4" r="1.38" fill="#5cd040" opacity="0.41"/>
<circle cx="45.2" cy="35.7" r="1.48" fill="#5cd040" opacity="0.47"/>
<circle cx="63.4" cy="31.6" r="1.37" fill="#5cd040" opacity="0.37"/>
<circle cx="24.4" cy="42.3" r="1.01" fill="#5cd040" opacity="0.30"/>
<circle cx="66.4" cy="34.3" r="1.22" fill="#5cd040" opacity="0.72"/>
<circle cx="21.7" cy="38.8" r="1.43" fill="#5cd040" opacity="0.78"/>
<circle cx="49.1" cy="32.7" r="0.98" fill="#5cd040" opacity="0.35"/>
<circle cx="23.9" cy="65.4" r="1.45" fill="#5cd040" opacity="0.78"/>
<circle cx="42.8" cy="41.4" r="1.54" fill="#5cd040" opacity="0.41"/>
<circle cx="46.4" cy="33.4" r="0.81" fill="#5cd040" opacity="0.34"/>
<circle cx="54.9" cy="28.2" r="0.89" fill="#5cd040" opacity="0.40"/>
<circle cx="59.4" cy="29.2" r="1.19" fill="#5cd040" opacity="0.68"/>
</g>
<ellipse cx="32" cy="48" rx="7" ry="4" fill="#b8c030" opacity="0.7" filter="url(#b2)"/>
<g filter="url(#b1)">
<ellipse cx="32.2" cy="32.5" rx="10.5" ry="8.5" fill="#2424d8"/>
<ellipse cx="57" cy="40" rx="9.5" ry="9" fill="#2424d8"/>
<ellipse cx="25.4" cy="55" rx="9" ry="10.5" fill="#2424d8"/>
<ellipse cx="51.6" cy="35.5" rx="2.2" ry="1.6" fill="#e030e0"/>
<ellipse cx="17.8" cy="69.4" rx="3" ry="2" fill="#e01010"/>
<ellipse cx="12.7" cy="33.8" rx="1.6" ry="1.2" fill="#c01010"/>
<ellipse cx="27" cy="12.7" rx="1.2" ry="1" fill="#a01010"/>
</g>
<path d="M38,48.2 L50.8,44.3 L46.5,48.6 L50.8,52.5 Z" fill="#fff"/>
<line x1="15.2" y1="81.2" x2="19.5" y2="81.2" stroke="#ccc" stroke-width="0.8"/>
<line x1="16.3" y1="83.6" x2="18.3" y2="83.6" stroke="#888" stroke-width="0.8"/>
</svg>
<svg x="430" y="726.4" width="90" height="91.6" overflow="hidden"><rect width="90" height="91.6" fill="#000"/>
<g filter="url(#b1)">
<path d="M40,19.5 A24,24 0 1 1 30,62" fill="none" stroke="#cc1414" stroke-width="6" filter="url(#b2)"/>
<ellipse cx="29" cy="35.5" rx="4.5" ry="14.5" fill="#3030ff" transform="rotate(28 29 35.5)"/>
<ellipse cx="51.2" cy="31.1" rx="11" ry="9.5" fill="#2c2cf8"/>
<ellipse cx="38.7" cy="42.4" rx="10" ry="10" fill="#3030ff"/>
<ellipse cx="50" cy="54.9" rx="12" ry="9" fill="#2c2cf8"/>
</g>
<g filter="url(#b05)">
<circle cx="32.7" cy="28.4" r="0.90" fill="#7090ff" opacity="0.8"/>
<circle cx="50.9" cy="36.6" r="0.91" fill="#7090ff" opacity="0.8"/>
<circle cx="54.1" cy="56.9" r="0.75" fill="#7090ff" opacity="0.8"/>
<circle cx="53.5" cy="32.2" r="0.89" fill="#7090ff" opacity="0.8"/>
<circle cx="53.6" cy="36.1" r="0.97" fill="#7090ff" opacity="0.8"/>
<circle cx="38.6" cy="47.7" r="0.89" fill="#7090ff" opacity="0.8"/>
<circle cx="43.5" cy="28.9" r="0.83" fill="#7090ff" opacity="0.8"/>
<circle cx="55.2" cy="30.5" r="1.07" fill="#7090ff" opacity="0.8"/>
<circle cx="56.3" cy="59.0" r="0.91" fill="#7090ff" opacity="0.8"/>
<circle cx="46.4" cy="42.3" r="0.93" fill="#7090ff" opacity="0.8"/>
<circle cx="57.9" cy="45.2" r="0.94" fill="#7090ff" opacity="0.8"/>
<circle cx="54.9" cy="35.7" r="0.62" fill="#7090ff" opacity="0.8"/>
<circle cx="59.8" cy="38.6" r="0.89" fill="#7090ff" opacity="0.8"/>
<circle cx="45.1" cy="50.9" r="0.73" fill="#7090ff" opacity="0.8"/>
<circle cx="38.2" cy="33.0" r="1.03" fill="#7090ff" opacity="0.8"/>
<circle cx="43.8" cy="61.9" r="1.13" fill="#7090ff" opacity="0.8"/>
<circle cx="60.9" cy="31.9" r="0.72" fill="#7090ff" opacity="0.8"/>
<circle cx="54.4" cy="48.6" r="0.78" fill="#7090ff" opacity="0.8"/>
<circle cx="42.4" cy="24.6" r="1.19" fill="#7090ff" opacity="0.8"/>
<circle cx="33.5" cy="54.5" r="0.88" fill="#7090ff" opacity="0.8"/>
<circle cx="53.2" cy="26.9" r="0.91" fill="#7090ff" opacity="0.8"/>
<circle cx="45.0" cy="50.6" r="0.68" fill="#7090ff" opacity="0.8"/>
<circle cx="60.0" cy="61.7" r="0.73" fill="#7090ff" opacity="0.8"/>
<circle cx="32.8" cy="44.4" r="0.86" fill="#7090ff" opacity="0.8"/>
<circle cx="50.6" cy="61.4" r="1.03" fill="#7090ff" opacity="0.8"/>
<circle cx="53.1" cy="58.1" r="0.97" fill="#7090ff" opacity="0.8"/>
<circle cx="40.6" cy="29.3" r="0.76" fill="#7090ff" opacity="0.8"/>
<circle cx="49.2" cy="33.0" r="0.76" fill="#7090ff" opacity="0.8"/>
<circle cx="52.1" cy="54.6" r="0.77" fill="#7090ff" opacity="0.8"/>
<circle cx="60.0" cy="53.4" r="0.81" fill="#7090ff" opacity="0.8"/>
<ellipse cx="35" cy="22.4" rx="1.5" ry="3" fill="#b0f020"/>
<ellipse cx="47.5" cy="43.6" rx="2.5" ry="2" fill="#f8e830"/>
<ellipse cx="53.7" cy="62.4" rx="2.2" ry="3" fill="#f0e020"/>
<ellipse cx="61.2" cy="36.1" rx="1.5" ry="2.5" fill="#f0e020"/>
<ellipse cx="25" cy="51.1" rx="1.3" ry="2.5" fill="#a0f020"/>
<ellipse cx="42" cy="47" rx="1.5" ry="1.5" fill="#ffffff"/>
</g>
<path d="M63.1,37.4 L76.9,33.0 L73.04,37.05 L76.9,41.1 Z" fill="#fff"/>
<path d="M51.2,45.5 L62.5,42.1 L59.34,46.00 L62.5,49.9 Z" fill="#fff"/>
<path d="M57.5,62.4 L71.2,58.0 L67.36,62.35 L71.2,66.7 Z" fill="#fff"/>
<line x1="9.5" y1="77" x2="15.6" y2="77" stroke="#ccc" stroke-width="0.8"/>
<line x1="11" y1="79.4" x2="14" y2="79.4" stroke="#888" stroke-width="0.8"/>
</svg></svg>
</body></html>
